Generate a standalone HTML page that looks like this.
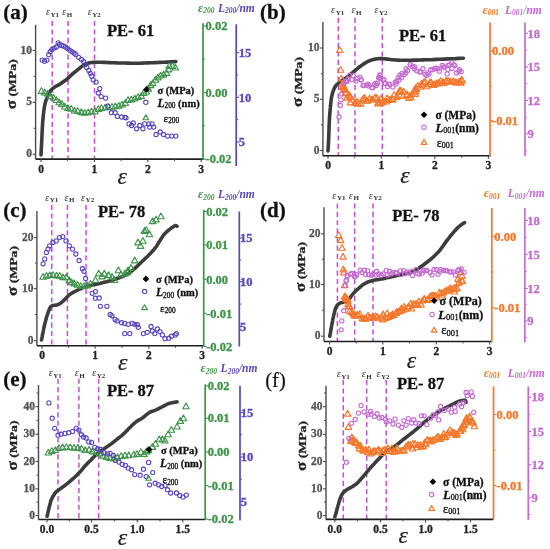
<!DOCTYPE html>
<html><head><meta charset="utf-8"><style>
html,body{margin:0;padding:0;background:#fff;}
svg{display:block;font-family:"Liberation Serif",serif;will-change:transform;filter:blur(0.4px);}
</style></head><body>
<svg width="550" height="549" viewBox="0 0 550 549">
<rect width="550" height="549" fill="#fff"/>
<text x="3.2" y="18.8" font-size="21" fill="#111" stroke="#111" stroke-width="0.3" font-weight="bold" font-style="normal" text-anchor="start" >(a)</text>
<text x="45.9" y="15.2" font-size="10" fill="#333" stroke="#333" stroke-width="0" font-weight="normal" font-style="italic" text-anchor="start" >&#949;</text>
<text x="50.5" y="17.0" font-size="7.0" fill="#333" stroke="#333" stroke-width="0" font-weight="bold" font-style="normal" text-anchor="start" >Y1</text>
<text x="62.2" y="15.2" font-size="10" fill="#333" stroke="#333" stroke-width="0" font-weight="normal" font-style="italic" text-anchor="start" >&#949;</text>
<text x="66.8" y="17.0" font-size="7.0" fill="#333" stroke="#333" stroke-width="0" font-weight="bold" font-style="normal" text-anchor="start" >H</text>
<text x="87.7" y="15.2" font-size="10" fill="#333" stroke="#333" stroke-width="0" font-weight="normal" font-style="italic" text-anchor="start" >&#949;</text>
<text x="92.3" y="17.0" font-size="7.0" fill="#333" stroke="#333" stroke-width="0" font-weight="bold" font-style="normal" text-anchor="start" >Y2</text>
<line x1="52.2" y1="21.0" x2="52.2" y2="158.5" stroke="#c64cd4" stroke-width="1.5" stroke-dasharray="5.1,3.3"/>
<line x1="68.0" y1="21.0" x2="68.0" y2="158.5" stroke="#c64cd4" stroke-width="1.5" stroke-dasharray="5.1,3.3"/>
<line x1="94.5" y1="21.0" x2="94.5" y2="158.5" stroke="#c64cd4" stroke-width="1.5" stroke-dasharray="5.1,3.3"/>
<text transform="translate(15.8,84.2) rotate(-90) scale(1.22,1)" font-size="11.2" font-weight="bold" fill="#222" stroke="#222" stroke-width="0.3" text-anchor="middle"><tspan font-weight="bold" font-size="14">&#963;</tspan> (MPa)</text>
<line x1="35.6" y1="24.8" x2="35.6" y2="159.1" stroke="#4a4a4a" stroke-width="1.4"/>
<line x1="32.6" y1="154.3" x2="35.6" y2="154.3" stroke="#4a4a4a" stroke-width="1.1"/>
<text x="32.1" y="157.3" font-size="11.5" fill="#555555" stroke="#555555" stroke-width="0.3" font-weight="bold" font-style="normal" text-anchor="end" >0</text>
<line x1="32.6" y1="102.4" x2="35.6" y2="102.4" stroke="#4a4a4a" stroke-width="1.1"/>
<text x="32.1" y="105.4" font-size="11.5" fill="#555555" stroke="#555555" stroke-width="0.3" font-weight="bold" font-style="normal" text-anchor="end" >5</text>
<line x1="32.6" y1="50.5" x2="35.6" y2="50.5" stroke="#4a4a4a" stroke-width="1.1"/>
<text x="32.1" y="53.5" font-size="11.5" fill="#555555" stroke="#555555" stroke-width="0.3" font-weight="bold" font-style="normal" text-anchor="end" >10</text>
<line x1="33.6" y1="128.3" x2="35.6" y2="128.3" stroke="#4a4a4a" stroke-width="1.0"/>
<line x1="33.6" y1="76.4" x2="35.6" y2="76.4" stroke="#4a4a4a" stroke-width="1.0"/>
<line x1="35.6" y1="159.1" x2="203.5" y2="159.1" stroke="#1e1e1e" stroke-width="1.6"/>
<line x1="41.0" y1="159.1" x2="41.0" y2="162.1" stroke="#4a4a4a" stroke-width="1.1"/>
<text x="41.0" y="172.6" font-size="11.5" fill="#222222" stroke="#222222" stroke-width="0.3" font-weight="bold" font-style="normal" text-anchor="middle" >0</text>
<line x1="94.4" y1="159.1" x2="94.4" y2="162.1" stroke="#4a4a4a" stroke-width="1.1"/>
<text x="94.4" y="172.6" font-size="11.5" fill="#222222" stroke="#222222" stroke-width="0.3" font-weight="bold" font-style="normal" text-anchor="middle" >1</text>
<line x1="147.8" y1="159.1" x2="147.8" y2="162.1" stroke="#4a4a4a" stroke-width="1.1"/>
<text x="147.8" y="172.6" font-size="11.5" fill="#222222" stroke="#222222" stroke-width="0.3" font-weight="bold" font-style="normal" text-anchor="middle" >2</text>
<line x1="201.2" y1="159.1" x2="201.2" y2="162.1" stroke="#4a4a4a" stroke-width="1.1"/>
<text x="201.2" y="172.6" font-size="11.5" fill="#222222" stroke="#222222" stroke-width="0.3" font-weight="bold" font-style="normal" text-anchor="middle" >3</text>
<line x1="67.7" y1="159.1" x2="67.7" y2="161.1" stroke="#4a4a4a" stroke-width="1.0"/>
<line x1="121.1" y1="159.1" x2="121.1" y2="161.1" stroke="#4a4a4a" stroke-width="1.0"/>
<line x1="174.5" y1="159.1" x2="174.5" y2="161.1" stroke="#4a4a4a" stroke-width="1.0"/>
<line x1="203.0" y1="23.2" x2="203.0" y2="159.5" stroke="#3f934a" stroke-width="1.7"/>
<line x1="203.0" y1="26.0" x2="206.0" y2="26.0" stroke="#3f934a" stroke-width="1.1"/>
<text x="205.5" y="30.2" font-size="12.5" fill="#3f934a" stroke="#3f934a" stroke-width="0.3" font-weight="bold" font-style="normal" text-anchor="start" >0.02</text>
<line x1="203.0" y1="92.5" x2="206.0" y2="92.5" stroke="#3f934a" stroke-width="1.1"/>
<text x="205.5" y="96.7" font-size="12.5" fill="#3f934a" stroke="#3f934a" stroke-width="0.3" font-weight="bold" font-style="normal" text-anchor="start" >0.00</text>
<line x1="203.0" y1="159.0" x2="206.0" y2="159.0" stroke="#3f934a" stroke-width="1.1"/>
<text x="205.5" y="163.2" font-size="12.5" fill="#3f934a" stroke="#3f934a" stroke-width="0.3" font-weight="bold" font-style="normal" text-anchor="start" >-0.02</text>
<line x1="203.0" y1="59.2" x2="205.0" y2="59.2" stroke="#3f934a" stroke-width="1.0"/>
<line x1="203.0" y1="125.8" x2="205.0" y2="125.8" stroke="#3f934a" stroke-width="1.0"/>
<line x1="236.2" y1="24.4" x2="236.2" y2="166.0" stroke="#5a47bc" stroke-width="1.7"/>
<line x1="236.2" y1="52.6" x2="239.2" y2="52.6" stroke="#5a47bc" stroke-width="1.1"/>
<text x="238.7" y="56.8" font-size="12.5" fill="#5a47bc" stroke="#5a47bc" stroke-width="0.3" font-weight="bold" font-style="normal" text-anchor="start" >15</text>
<line x1="236.2" y1="97.3" x2="239.2" y2="97.3" stroke="#5a47bc" stroke-width="1.1"/>
<text x="238.7" y="101.5" font-size="12.5" fill="#5a47bc" stroke="#5a47bc" stroke-width="0.3" font-weight="bold" font-style="normal" text-anchor="start" >10</text>
<line x1="236.2" y1="142.0" x2="239.2" y2="142.0" stroke="#5a47bc" stroke-width="1.1"/>
<text x="238.7" y="146.2" font-size="12.5" fill="#5a47bc" stroke="#5a47bc" stroke-width="0.3" font-weight="bold" font-style="normal" text-anchor="start" >5</text>
<line x1="236.2" y1="75.0" x2="238.2" y2="75.0" stroke="#5a47bc" stroke-width="1.0"/>
<line x1="236.2" y1="119.6" x2="238.2" y2="119.6" stroke="#5a47bc" stroke-width="1.0"/>
<text x="198.0" y="11.8" font-size="12.5" font-weight="bold" font-style="italic" fill="#3f934a">&#949;<tspan font-size="7.5" dy="1.4">200</tspan></text>
<text x="218.0" y="11.8" font-size="11.5" font-weight="bold" font-style="italic" fill="#5a47bc">L<tspan font-size="7.5" dy="1.4">200</tspan><tspan dy="-1.4">/nm</tspan></text>
<text x="107.0" y="35.8" font-size="16.5" fill="#111" stroke="#111" stroke-width="0.3" font-weight="bold" font-style="normal" text-anchor="start" >PE- 61</text>
<text x="117.5" y="183.5" font-size="24" fill="#222" stroke="#222" stroke-width="0.18" font-weight="normal" font-style="italic" text-anchor="start" >&#949;</text>
<polyline points="41.0,155.0 41.0,154.4 41.1,153.8 41.1,153.1 41.1,152.2 41.2,151.2 41.2,150.2 41.3,149.1 41.4,147.8 41.4,146.4 41.5,145.0 41.6,143.4 41.7,141.5 41.8,139.5 41.9,137.4 42.0,135.2 42.1,133.0 42.2,130.8 42.3,128.7 42.4,126.8 42.5,125.0 42.6,123.4 42.7,121.9 42.8,120.5 43.0,119.1 43.1,117.8 43.2,116.6 43.3,115.4 43.4,114.2 43.6,113.1 43.7,112.0 43.8,110.9 44.0,109.9 44.1,108.9 44.3,107.9 44.4,107.0 44.5,106.2 44.7,105.3 44.9,104.5 45.0,103.7 45.2,103.0 45.4,102.3 45.6,101.7 45.7,101.1 45.9,100.6 46.1,100.1 46.3,99.6 46.5,99.1 46.7,98.6 47.0,98.1 47.2,97.5 47.4,96.9 47.7,96.3 47.9,95.7 48.2,95.0 48.5,94.4 48.8,93.8 49.0,93.2 49.4,92.6 49.7,92.0 50.0,91.5 50.3,91.0 50.7,90.5 51.1,90.1 51.5,89.7 51.9,89.3 52.3,88.9 52.7,88.5 53.1,88.2 53.6,87.8 54.0,87.5 54.4,87.2 54.9,86.9 55.3,86.6 55.8,86.4 56.2,86.2 56.7,85.9 57.2,85.7 57.6,85.5 58.1,85.3 58.5,85.0 58.9,84.7 59.4,84.5 59.8,84.2 60.2,83.9 60.6,83.6 61.1,83.3 61.5,83.0 61.9,82.8 62.3,82.5 62.7,82.2 63.1,81.9 63.5,81.7 63.8,81.5 64.1,81.2 64.5,81.0 64.8,80.8 65.2,80.5 65.6,80.2 66.0,79.9 66.5,79.5 67.0,79.1 67.6,78.6 68.2,78.0 68.8,77.5 69.4,76.9 70.0,76.3 70.7,75.7 71.3,75.1 71.9,74.5 72.5,74.0 73.1,73.5 73.6,73.0 74.2,72.5 74.8,72.1 75.4,71.6 75.9,71.2 76.4,70.7 77.0,70.3 77.5,69.9 78.0,69.5 78.5,69.1 78.9,68.7 79.4,68.3 79.8,68.0 80.3,67.6 80.7,67.3 81.1,66.9 81.5,66.6 82.0,66.3 82.4,66.0 82.9,65.7 83.3,65.4 83.8,65.2 84.3,64.9 84.7,64.6 85.2,64.4 85.7,64.2 86.1,64.0 86.6,63.8 87.0,63.6 87.4,63.4 87.8,63.3 88.2,63.2 88.6,63.1 89.0,63.0 89.4,62.9 89.7,62.8 90.1,62.7 90.6,62.7 91.0,62.6 91.4,62.5 91.9,62.5 92.3,62.4 92.8,62.4 93.2,62.4 93.7,62.4 94.2,62.3 94.8,62.3 95.4,62.3 96.0,62.3 96.6,62.3 97.3,62.3 98.0,62.3 98.7,62.3 99.4,62.3 100.2,62.3 101.0,62.3 101.9,62.3 102.9,62.4 104.0,62.4 105.2,62.4 106.6,62.5 108.2,62.6 109.8,62.6 111.5,62.7 113.1,62.8 114.7,62.8 116.2,62.9 117.5,63.0 118.7,63.0 119.7,63.0 120.4,63.0 121.1,63.0 121.6,63.0 122.1,63.0 122.6,63.0 123.1,63.0 123.6,63.0 124.3,63.0 125.0,63.0 125.8,63.0 126.7,63.1 127.6,63.1 128.5,63.1 129.5,63.2 130.5,63.2 131.5,63.3 132.6,63.3 133.8,63.3 135.0,63.3 136.3,63.3 137.7,63.3 139.1,63.2 140.6,63.2 142.2,63.1 143.8,63.0 145.3,63.0 146.9,62.9 148.5,62.9 150.0,62.8 151.5,62.7 153.1,62.7 154.6,62.6 156.2,62.6 157.8,62.5 159.3,62.4 160.8,62.4 162.3,62.3 163.7,62.3 165.0,62.2 166.3,62.1 167.6,62.1 168.9,62.0 170.1,61.9 171.3,61.9 172.5,61.8 173.5,61.7 174.4,61.7 175.2,61.6 175.8,61.6" fill="none" stroke="#3c3c3c" stroke-width="3.6" stroke-linejoin="round" stroke-linecap="round"/>
<polygon points="41.4,87.7 38.2,93.3 44.7,93.3" fill="none" stroke="#3f934a" stroke-width="1.15" stroke-linejoin="round"/>
<polygon points="44.6,89.3 41.3,95.0 47.8,95.0" fill="none" stroke="#3f934a" stroke-width="1.15" stroke-linejoin="round"/>
<polygon points="47.8,90.3 44.5,95.9 51.0,95.9" fill="none" stroke="#3f934a" stroke-width="1.15" stroke-linejoin="round"/>
<polygon points="50.5,93.1 47.3,98.7 53.8,98.7" fill="none" stroke="#3f934a" stroke-width="1.15" stroke-linejoin="round"/>
<polygon points="53.4,94.4 50.2,100.0 56.7,100.0" fill="none" stroke="#3f934a" stroke-width="1.15" stroke-linejoin="round"/>
<polygon points="56.5,96.8 53.2,102.5 59.7,102.5" fill="none" stroke="#3f934a" stroke-width="1.15" stroke-linejoin="round"/>
<polygon points="59.1,99.0 55.9,104.7 62.4,104.7" fill="none" stroke="#3f934a" stroke-width="1.15" stroke-linejoin="round"/>
<polygon points="61.9,100.7 58.6,106.4 65.1,106.4" fill="none" stroke="#3f934a" stroke-width="1.15" stroke-linejoin="round"/>
<polygon points="64.9,103.4 61.6,109.0 68.1,109.0" fill="none" stroke="#3f934a" stroke-width="1.15" stroke-linejoin="round"/>
<polygon points="67.9,104.9 64.7,110.5 71.2,110.5" fill="none" stroke="#3f934a" stroke-width="1.15" stroke-linejoin="round"/>
<polygon points="71.2,105.5 67.9,111.2 74.4,111.2" fill="none" stroke="#3f934a" stroke-width="1.15" stroke-linejoin="round"/>
<polygon points="74.5,107.4 71.2,113.0 77.7,113.0" fill="none" stroke="#3f934a" stroke-width="1.15" stroke-linejoin="round"/>
<polygon points="77.7,107.7 74.4,113.3 80.9,113.3" fill="none" stroke="#3f934a" stroke-width="1.15" stroke-linejoin="round"/>
<polygon points="81.3,108.9 78.0,114.6 84.5,114.6" fill="none" stroke="#3f934a" stroke-width="1.15" stroke-linejoin="round"/>
<polygon points="84.7,109.6 81.5,115.2 88.0,115.2" fill="none" stroke="#3f934a" stroke-width="1.15" stroke-linejoin="round"/>
<polygon points="88.2,109.0 84.9,114.6 91.4,114.6" fill="none" stroke="#3f934a" stroke-width="1.15" stroke-linejoin="round"/>
<polygon points="91.5,108.4 88.3,114.0 94.8,114.0" fill="none" stroke="#3f934a" stroke-width="1.15" stroke-linejoin="round"/>
<polygon points="95.0,108.0 91.7,113.7 98.2,113.7" fill="none" stroke="#3f934a" stroke-width="1.15" stroke-linejoin="round"/>
<polygon points="98.4,105.8 95.2,111.4 101.7,111.4" fill="none" stroke="#3f934a" stroke-width="1.15" stroke-linejoin="round"/>
<polygon points="101.4,104.7 98.2,110.3 104.7,110.3" fill="none" stroke="#3f934a" stroke-width="1.15" stroke-linejoin="round"/>
<polygon points="105.2,104.4 101.9,110.0 108.4,110.0" fill="none" stroke="#3f934a" stroke-width="1.15" stroke-linejoin="round"/>
<polygon points="108.5,103.8 105.3,109.5 111.8,109.5" fill="none" stroke="#3f934a" stroke-width="1.15" stroke-linejoin="round"/>
<polygon points="112.0,103.5 108.7,109.2 115.2,109.2" fill="none" stroke="#3f934a" stroke-width="1.15" stroke-linejoin="round"/>
<polygon points="115.3,103.1 112.1,108.7 118.6,108.7" fill="none" stroke="#3f934a" stroke-width="1.15" stroke-linejoin="round"/>
<polygon points="118.8,102.5 115.5,108.1 122.0,108.1" fill="none" stroke="#3f934a" stroke-width="1.15" stroke-linejoin="round"/>
<polygon points="122.0,101.2 118.8,106.8 125.3,106.8" fill="none" stroke="#3f934a" stroke-width="1.15" stroke-linejoin="round"/>
<polygon points="125.2,99.7 122.0,105.3 128.5,105.3" fill="none" stroke="#3f934a" stroke-width="1.15" stroke-linejoin="round"/>
<polygon points="128.1,96.8 124.8,102.4 131.3,102.4" fill="none" stroke="#3f934a" stroke-width="1.15" stroke-linejoin="round"/>
<polygon points="131.3,96.3 128.1,101.9 134.6,101.9" fill="none" stroke="#3f934a" stroke-width="1.15" stroke-linejoin="round"/>
<polygon points="134.8,95.2 131.5,100.8 138.0,100.8" fill="none" stroke="#3f934a" stroke-width="1.15" stroke-linejoin="round"/>
<polygon points="138.1,93.8 134.8,99.4 141.3,99.4" fill="none" stroke="#3f934a" stroke-width="1.15" stroke-linejoin="round"/>
<polygon points="141.2,92.7 138.0,98.3 144.5,98.3" fill="none" stroke="#3f934a" stroke-width="1.15" stroke-linejoin="round"/>
<polygon points="143.7,89.7 140.4,95.4 146.9,95.4" fill="none" stroke="#3f934a" stroke-width="1.15" stroke-linejoin="round"/>
<polygon points="146.3,88.4 143.1,94.0 149.6,94.0" fill="none" stroke="#3f934a" stroke-width="1.15" stroke-linejoin="round"/>
<polygon points="148.3,85.5 145.0,91.1 151.5,91.1" fill="none" stroke="#3f934a" stroke-width="1.15" stroke-linejoin="round"/>
<polygon points="150.6,81.9 147.3,87.6 153.8,87.6" fill="none" stroke="#3f934a" stroke-width="1.15" stroke-linejoin="round"/>
<polygon points="152.7,80.0 149.5,85.6 156.0,85.6" fill="none" stroke="#3f934a" stroke-width="1.15" stroke-linejoin="round"/>
<polygon points="155.4,76.6 152.1,82.2 158.6,82.2" fill="none" stroke="#3f934a" stroke-width="1.15" stroke-linejoin="round"/>
<polygon points="157.8,74.2 154.6,79.8 161.1,79.8" fill="none" stroke="#3f934a" stroke-width="1.15" stroke-linejoin="round"/>
<polygon points="160.6,72.3 157.3,78.0 163.8,78.0" fill="none" stroke="#3f934a" stroke-width="1.15" stroke-linejoin="round"/>
<polygon points="163.6,71.2 160.3,76.8 166.8,76.8" fill="none" stroke="#3f934a" stroke-width="1.15" stroke-linejoin="round"/>
<polygon points="166.6,69.7 163.3,75.3 169.8,75.3" fill="none" stroke="#3f934a" stroke-width="1.15" stroke-linejoin="round"/>
<polygon points="168.6,66.2 165.3,71.8 171.8,71.8" fill="none" stroke="#3f934a" stroke-width="1.15" stroke-linejoin="round"/>
<polygon points="169.2,62.8 166.0,68.4 172.5,68.4" fill="none" stroke="#3f934a" stroke-width="1.15" stroke-linejoin="round"/>
<polygon points="172.5,62.8 169.2,68.5 175.7,68.5" fill="none" stroke="#3f934a" stroke-width="1.15" stroke-linejoin="round"/>
<polygon points="175.3,64.3 172.1,70.0 178.6,70.0" fill="none" stroke="#3f934a" stroke-width="1.15" stroke-linejoin="round"/>
<circle cx="42.2" cy="60.1" r="2.1" fill="none" stroke="#5a47bc" stroke-width="1.1"/>
<circle cx="44.6" cy="61.2" r="2.1" fill="none" stroke="#5a47bc" stroke-width="1.1"/>
<circle cx="46.9" cy="60.1" r="2.1" fill="none" stroke="#5a47bc" stroke-width="1.1"/>
<circle cx="48.7" cy="54.6" r="2.1" fill="none" stroke="#5a47bc" stroke-width="1.1"/>
<circle cx="50.2" cy="51.7" r="2.1" fill="none" stroke="#5a47bc" stroke-width="1.1"/>
<circle cx="52.0" cy="49.5" r="2.1" fill="none" stroke="#5a47bc" stroke-width="1.1"/>
<circle cx="54.2" cy="48.1" r="2.1" fill="none" stroke="#5a47bc" stroke-width="1.1"/>
<circle cx="56.4" cy="47.0" r="2.1" fill="none" stroke="#5a47bc" stroke-width="1.1"/>
<circle cx="58.2" cy="42.8" r="2.1" fill="none" stroke="#5a47bc" stroke-width="1.1"/>
<circle cx="59.6" cy="44.5" r="2.1" fill="none" stroke="#5a47bc" stroke-width="1.1"/>
<circle cx="61.4" cy="45.5" r="2.1" fill="none" stroke="#5a47bc" stroke-width="1.1"/>
<circle cx="63.3" cy="45.9" r="2.1" fill="none" stroke="#5a47bc" stroke-width="1.1"/>
<circle cx="65.5" cy="47.0" r="2.1" fill="none" stroke="#5a47bc" stroke-width="1.1"/>
<circle cx="67.6" cy="48.5" r="2.1" fill="none" stroke="#5a47bc" stroke-width="1.1"/>
<circle cx="69.8" cy="50.3" r="2.1" fill="none" stroke="#5a47bc" stroke-width="1.1"/>
<circle cx="72.0" cy="51.7" r="2.1" fill="none" stroke="#5a47bc" stroke-width="1.1"/>
<circle cx="74.2" cy="53.2" r="2.1" fill="none" stroke="#5a47bc" stroke-width="1.1"/>
<circle cx="75.9" cy="54.6" r="2.1" fill="none" stroke="#5a47bc" stroke-width="1.1"/>
<circle cx="78.6" cy="57.3" r="2.1" fill="none" stroke="#5a47bc" stroke-width="1.1"/>
<circle cx="81.6" cy="59.5" r="2.1" fill="none" stroke="#5a47bc" stroke-width="1.1"/>
<circle cx="83.7" cy="61.7" r="2.1" fill="none" stroke="#5a47bc" stroke-width="1.1"/>
<circle cx="85.2" cy="64.6" r="2.1" fill="none" stroke="#5a47bc" stroke-width="1.1"/>
<circle cx="86.7" cy="67.5" r="2.1" fill="none" stroke="#5a47bc" stroke-width="1.1"/>
<circle cx="88.8" cy="70.4" r="2.1" fill="none" stroke="#5a47bc" stroke-width="1.1"/>
<circle cx="90.3" cy="73.3" r="2.1" fill="none" stroke="#5a47bc" stroke-width="1.1"/>
<circle cx="91.8" cy="76.2" r="2.1" fill="none" stroke="#5a47bc" stroke-width="1.1"/>
<circle cx="93.2" cy="79.9" r="2.1" fill="none" stroke="#5a47bc" stroke-width="1.1"/>
<circle cx="96.1" cy="82.1" r="2.1" fill="none" stroke="#5a47bc" stroke-width="1.1"/>
<circle cx="99.8" cy="88.6" r="2.1" fill="none" stroke="#5a47bc" stroke-width="1.1"/>
<circle cx="98.3" cy="93.0" r="2.1" fill="none" stroke="#5a47bc" stroke-width="1.1"/>
<circle cx="101.2" cy="96.6" r="2.1" fill="none" stroke="#5a47bc" stroke-width="1.1"/>
<circle cx="105.6" cy="98.1" r="2.1" fill="none" stroke="#5a47bc" stroke-width="1.1"/>
<circle cx="107.8" cy="106.1" r="2.1" fill="none" stroke="#5a47bc" stroke-width="1.1"/>
<circle cx="111.4" cy="112.7" r="2.1" fill="none" stroke="#5a47bc" stroke-width="1.1"/>
<circle cx="115.1" cy="112.7" r="2.1" fill="none" stroke="#5a47bc" stroke-width="1.1"/>
<circle cx="117.3" cy="116.3" r="2.1" fill="none" stroke="#5a47bc" stroke-width="1.1"/>
<circle cx="121.6" cy="117.0" r="2.1" fill="none" stroke="#5a47bc" stroke-width="1.1"/>
<circle cx="126.0" cy="117.8" r="2.1" fill="none" stroke="#5a47bc" stroke-width="1.1"/>
<circle cx="125.0" cy="117.3" r="2.1" fill="none" stroke="#5a47bc" stroke-width="1.1"/>
<circle cx="129.1" cy="123.9" r="2.1" fill="none" stroke="#5a47bc" stroke-width="1.1"/>
<circle cx="131.6" cy="125.5" r="2.1" fill="none" stroke="#5a47bc" stroke-width="1.1"/>
<circle cx="133.3" cy="122.9" r="2.1" fill="none" stroke="#5a47bc" stroke-width="1.1"/>
<circle cx="136.5" cy="128.8" r="2.1" fill="none" stroke="#5a47bc" stroke-width="1.1"/>
<circle cx="139.8" cy="125.5" r="2.1" fill="none" stroke="#5a47bc" stroke-width="1.1"/>
<circle cx="143.0" cy="128.8" r="2.1" fill="none" stroke="#5a47bc" stroke-width="1.1"/>
<circle cx="144.7" cy="123.9" r="2.1" fill="none" stroke="#5a47bc" stroke-width="1.1"/>
<circle cx="148.8" cy="123.9" r="2.1" fill="none" stroke="#5a47bc" stroke-width="1.1"/>
<circle cx="152.0" cy="123.9" r="2.1" fill="none" stroke="#5a47bc" stroke-width="1.1"/>
<circle cx="153.7" cy="127.1" r="2.1" fill="none" stroke="#5a47bc" stroke-width="1.1"/>
<circle cx="149.6" cy="127.1" r="2.1" fill="none" stroke="#5a47bc" stroke-width="1.1"/>
<circle cx="156.1" cy="134.5" r="2.1" fill="none" stroke="#5a47bc" stroke-width="1.1"/>
<circle cx="160.2" cy="132.0" r="2.1" fill="none" stroke="#5a47bc" stroke-width="1.1"/>
<circle cx="163.5" cy="134.5" r="2.1" fill="none" stroke="#5a47bc" stroke-width="1.1"/>
<circle cx="167.6" cy="136.1" r="2.1" fill="none" stroke="#5a47bc" stroke-width="1.1"/>
<circle cx="171.7" cy="136.1" r="2.1" fill="none" stroke="#5a47bc" stroke-width="1.1"/>
<circle cx="175.8" cy="136.1" r="2.1" fill="none" stroke="#5a47bc" stroke-width="1.1"/>
<polygon points="146.5,86.1 149.8,89.4 146.5,92.7 143.2,89.4" fill="#000"/>
<text x="157.4" y="93.8" font-size="10.5" font-weight="bold" fill="#111" stroke="#111" stroke-width="0.3">&#963; (MPa)</text>
<circle cx="145.8" cy="102.3" r="2.2" fill="none" stroke="#5a47bc" stroke-width="1.1"/>
<text x="157.4" y="106.6" font-size="10.5" font-weight="bold" fill="#111" stroke="#111" stroke-width="0.3"><tspan font-style="italic" font-size="11.6">L</tspan><tspan font-size="7.3" dy="1.6" font-weight="normal">200</tspan><tspan dy="-1.6"> (nm)</tspan></text>
<polygon points="145.8,114.9 143.0,119.7 148.6,119.7" fill="none" stroke="#3f934a" stroke-width="1.15" stroke-linejoin="round"/>
<text x="163.5" y="121.6" font-size="10.5" font-weight="bold" fill="#111" stroke="#111" stroke-width="0.3"><tspan font-weight="normal" font-size="11.0">&#949;</tspan><tspan font-size="7.3" dy="1.6" font-weight="normal">200</tspan></text>
<text x="260.0" y="19.0" font-size="21" fill="#111" stroke="#111" stroke-width="0.3" font-weight="bold" font-style="normal" text-anchor="start" >(b)</text>
<text x="331.1" y="13.2" font-size="10" fill="#333" stroke="#333" stroke-width="0" font-weight="normal" font-style="italic" text-anchor="start" >&#949;</text>
<text x="335.7" y="15.0" font-size="7.0" fill="#333" stroke="#333" stroke-width="0" font-weight="bold" font-style="normal" text-anchor="start" >Y1</text>
<text x="351.4" y="13.2" font-size="10" fill="#333" stroke="#333" stroke-width="0" font-weight="normal" font-style="italic" text-anchor="start" >&#949;</text>
<text x="356.0" y="15.0" font-size="7.0" fill="#333" stroke="#333" stroke-width="0" font-weight="bold" font-style="normal" text-anchor="start" >H</text>
<text x="374.4" y="13.2" font-size="10" fill="#333" stroke="#333" stroke-width="0" font-weight="normal" font-style="italic" text-anchor="start" >&#949;</text>
<text x="379.0" y="15.0" font-size="7.0" fill="#333" stroke="#333" stroke-width="0" font-weight="bold" font-style="normal" text-anchor="start" >Y2</text>
<line x1="338.3" y1="17.8" x2="338.3" y2="155.3" stroke="#c64cd4" stroke-width="1.5" stroke-dasharray="5.1,3.3"/>
<line x1="355.0" y1="17.8" x2="355.0" y2="155.3" stroke="#c64cd4" stroke-width="1.5" stroke-dasharray="5.1,3.3"/>
<line x1="382.3" y1="17.8" x2="382.3" y2="155.3" stroke="#c64cd4" stroke-width="1.5" stroke-dasharray="5.1,3.3"/>
<text transform="translate(302.3,82.0) rotate(-90) scale(1.22,1)" font-size="11.2" font-weight="bold" fill="#222" stroke="#222" stroke-width="0.3" text-anchor="middle"><tspan font-weight="bold" font-size="14">&#963;</tspan> (MPa)</text>
<line x1="322.9" y1="22.0" x2="322.9" y2="155.8" stroke="#4a4a4a" stroke-width="1.4"/>
<line x1="319.9" y1="150.5" x2="322.9" y2="150.5" stroke="#4a4a4a" stroke-width="1.1"/>
<text x="319.4" y="153.5" font-size="11.5" fill="#555555" stroke="#555555" stroke-width="0.3" font-weight="bold" font-style="normal" text-anchor="end" >0</text>
<line x1="319.9" y1="99.3" x2="322.9" y2="99.3" stroke="#4a4a4a" stroke-width="1.1"/>
<text x="319.4" y="102.3" font-size="11.5" fill="#555555" stroke="#555555" stroke-width="0.3" font-weight="bold" font-style="normal" text-anchor="end" >5</text>
<line x1="319.9" y1="48.0" x2="322.9" y2="48.0" stroke="#4a4a4a" stroke-width="1.1"/>
<text x="319.4" y="51.0" font-size="11.5" fill="#555555" stroke="#555555" stroke-width="0.3" font-weight="bold" font-style="normal" text-anchor="end" >10</text>
<line x1="320.9" y1="124.9" x2="322.9" y2="124.9" stroke="#4a4a4a" stroke-width="1.0"/>
<line x1="320.9" y1="73.7" x2="322.9" y2="73.7" stroke="#4a4a4a" stroke-width="1.0"/>
<line x1="322.9" y1="155.8" x2="490.5" y2="155.8" stroke="#1e1e1e" stroke-width="1.6"/>
<line x1="328.0" y1="155.8" x2="328.0" y2="158.8" stroke="#4a4a4a" stroke-width="1.1"/>
<text x="328.0" y="169.3" font-size="11.5" fill="#222222" stroke="#222222" stroke-width="0.3" font-weight="bold" font-style="normal" text-anchor="middle" >0</text>
<line x1="381.3" y1="155.8" x2="381.3" y2="158.8" stroke="#4a4a4a" stroke-width="1.1"/>
<text x="381.3" y="169.3" font-size="11.5" fill="#222222" stroke="#222222" stroke-width="0.3" font-weight="bold" font-style="normal" text-anchor="middle" >1</text>
<line x1="434.8" y1="155.8" x2="434.8" y2="158.8" stroke="#4a4a4a" stroke-width="1.1"/>
<text x="434.8" y="169.3" font-size="11.5" fill="#222222" stroke="#222222" stroke-width="0.3" font-weight="bold" font-style="normal" text-anchor="middle" >2</text>
<line x1="488.4" y1="155.8" x2="488.4" y2="158.8" stroke="#4a4a4a" stroke-width="1.1"/>
<text x="488.4" y="169.3" font-size="11.5" fill="#222222" stroke="#222222" stroke-width="0.3" font-weight="bold" font-style="normal" text-anchor="middle" >3</text>
<line x1="354.6" y1="155.8" x2="354.6" y2="157.8" stroke="#4a4a4a" stroke-width="1.0"/>
<line x1="408.0" y1="155.8" x2="408.0" y2="157.8" stroke="#4a4a4a" stroke-width="1.0"/>
<line x1="461.6" y1="155.8" x2="461.6" y2="157.8" stroke="#4a4a4a" stroke-width="1.0"/>
<line x1="490.0" y1="22.4" x2="490.0" y2="156.0" stroke="#f3782c" stroke-width="1.7"/>
<line x1="490.0" y1="50.9" x2="493.0" y2="50.9" stroke="#f3782c" stroke-width="1.1"/>
<text x="492.0" y="55.1" font-size="12.5" fill="#f3782c" stroke="#f3782c" stroke-width="0.3" font-weight="bold" font-style="normal" text-anchor="start" >0.00</text>
<line x1="490.0" y1="120.7" x2="493.0" y2="120.7" stroke="#f3782c" stroke-width="1.1"/>
<text x="492.0" y="124.9" font-size="12.5" fill="#f3782c" stroke="#f3782c" stroke-width="0.3" font-weight="bold" font-style="normal" text-anchor="start" >-0.01</text>
<line x1="490.0" y1="85.8" x2="492.0" y2="85.8" stroke="#f3782c" stroke-width="1.0"/>
<line x1="525.0" y1="22.4" x2="525.0" y2="156.3" stroke="#c46ad2" stroke-width="1.7"/>
<line x1="525.0" y1="33.3" x2="528.0" y2="33.3" stroke="#c46ad2" stroke-width="1.1"/>
<text x="527.5" y="37.5" font-size="12.5" fill="#c46ad2" stroke="#c46ad2" stroke-width="0.3" font-weight="bold" font-style="normal" text-anchor="start" >18</text>
<line x1="525.0" y1="66.8" x2="528.0" y2="66.8" stroke="#c46ad2" stroke-width="1.1"/>
<text x="527.5" y="71.0" font-size="12.5" fill="#c46ad2" stroke="#c46ad2" stroke-width="0.3" font-weight="bold" font-style="normal" text-anchor="start" >15</text>
<line x1="525.0" y1="100.5" x2="528.0" y2="100.5" stroke="#c46ad2" stroke-width="1.1"/>
<text x="527.5" y="104.7" font-size="12.5" fill="#c46ad2" stroke="#c46ad2" stroke-width="0.3" font-weight="bold" font-style="normal" text-anchor="start" >12</text>
<line x1="525.0" y1="134.0" x2="528.0" y2="134.0" stroke="#c46ad2" stroke-width="1.1"/>
<text x="527.5" y="138.2" font-size="12.5" fill="#c46ad2" stroke="#c46ad2" stroke-width="0.3" font-weight="bold" font-style="normal" text-anchor="start" >9</text>
<line x1="525.0" y1="50.0" x2="527.0" y2="50.0" stroke="#c46ad2" stroke-width="1.0"/>
<line x1="525.0" y1="83.6" x2="527.0" y2="83.6" stroke="#c46ad2" stroke-width="1.0"/>
<line x1="525.0" y1="117.2" x2="527.0" y2="117.2" stroke="#c46ad2" stroke-width="1.0"/>
<line x1="525.0" y1="150.8" x2="527.0" y2="150.8" stroke="#c46ad2" stroke-width="1.0"/>
<text x="482.5" y="14.0" font-size="12.5" font-weight="bold" font-style="italic" fill="#f3782c">&#949;<tspan font-size="7.5" dy="1.4">001</tspan></text>
<text x="505.0" y="14.0" font-size="11.5" font-weight="bold" font-style="italic" fill="#c46ad2">L<tspan font-size="7.5" dy="1.4">001</tspan><tspan dy="-1.4">/nm</tspan></text>
<text x="399.0" y="40.5" font-size="16.5" fill="#111" stroke="#111" stroke-width="0.3" font-weight="bold" font-style="normal" text-anchor="start" >PE- 61</text>
<text x="400.2" y="182.5" font-size="24" fill="#222" stroke="#222" stroke-width="0.18" font-weight="normal" font-style="italic" text-anchor="start" >&#949;</text>
<polyline points="328.0,151.0 328.0,150.4 328.1,149.6 328.1,148.8 328.2,147.8 328.2,146.8 328.3,145.6 328.4,144.3 328.5,143.0 328.5,141.5 328.6,140.0 328.7,138.4 328.7,136.5 328.8,134.6 328.9,132.5 329.0,130.4 329.0,128.2 329.1,126.1 329.2,124.0 329.3,121.9 329.4,120.0 329.5,118.1 329.6,116.2 329.8,114.3 329.9,112.5 330.1,110.6 330.2,108.9 330.4,107.2 330.5,105.6 330.7,104.1 330.8,102.7 330.9,101.5 331.1,100.4 331.2,99.4 331.3,98.5 331.5,97.7 331.6,96.9 331.7,96.2 331.9,95.4 332.1,94.7 332.3,93.9 332.5,93.1 332.8,92.3 333.0,91.5 333.3,90.7 333.6,90.0 333.9,89.2 334.2,88.5 334.5,87.8 334.8,87.2 335.2,86.6 335.6,86.1 335.9,85.6 336.3,85.1 336.7,84.7 337.1,84.3 337.6,83.9 338.0,83.6 338.5,83.2 339.0,82.7 339.6,82.3 340.2,81.8 340.9,81.3 341.6,80.9 342.3,80.4 343.1,79.9 343.8,79.3 344.6,78.8 345.4,78.3 346.2,77.7 346.9,77.2 347.6,76.6 348.4,76.1 349.1,75.5 349.8,74.9 350.6,74.3 351.3,73.7 352.0,73.1 352.7,72.5 353.5,71.9 354.2,71.3 354.9,70.7 355.6,70.1 356.4,69.5 357.1,68.9 357.8,68.3 358.5,67.7 359.2,67.1 360.0,66.6 360.7,66.0 361.4,65.5 362.1,65.0 362.9,64.5 363.6,64.0 364.3,63.5 365.0,63.1 365.8,62.6 366.5,62.2 367.2,61.8 368.0,61.4 368.7,61.1 369.4,60.8 370.2,60.5 370.9,60.2 371.6,60.0 372.4,59.8 373.1,59.6 373.8,59.4 374.5,59.3 375.3,59.1 376.0,59.0 376.7,58.9 377.3,58.8 377.9,58.7 378.5,58.7 379.1,58.6 379.7,58.6 380.4,58.6 381.2,58.6 382.2,58.6 383.3,58.7 384.5,58.8 385.8,58.9 387.2,59.1 388.7,59.3 390.3,59.5 392.0,59.7 393.8,59.8 395.7,60.0 397.8,60.1 400.0,60.2 402.4,60.2 405.0,60.2 407.7,60.2 410.5,60.2 413.5,60.1 416.6,60.1 419.7,60.0 422.8,59.9 426.0,59.8 429.2,59.7 432.6,59.6 436.3,59.4 440.2,59.3 444.2,59.1 448.1,58.9 451.9,58.7 455.5,58.6 458.7,58.4 461.3,58.3 463.4,58.2" fill="none" stroke="#3c3c3c" stroke-width="3.6" stroke-linejoin="round" stroke-linecap="round"/>
<polygon points="339.6,46.8 336.4,52.5 342.9,52.5" fill="none" stroke="#f3782c" stroke-width="1.15" stroke-linejoin="round"/>
<polygon points="340.7,66.5 337.4,72.2 343.9,72.2" fill="none" stroke="#f3782c" stroke-width="1.15" stroke-linejoin="round"/>
<polygon points="341.3,75.2 338.1,80.9 344.6,80.9" fill="none" stroke="#f3782c" stroke-width="1.15" stroke-linejoin="round"/>
<polygon points="342.4,80.3 339.2,85.9 345.7,85.9" fill="none" stroke="#f3782c" stroke-width="1.15" stroke-linejoin="round"/>
<polygon points="343.1,83.0 339.8,88.6 346.3,88.6" fill="none" stroke="#f3782c" stroke-width="1.15" stroke-linejoin="round"/>
<polygon points="343.3,84.4 340.1,90.0 346.6,90.0" fill="none" stroke="#f3782c" stroke-width="1.15" stroke-linejoin="round"/>
<polygon points="342.5,83.4 339.2,89.0 345.7,89.0" fill="none" stroke="#f3782c" stroke-width="1.15" stroke-linejoin="round"/>
<polygon points="344.3,86.0 341.0,91.6 347.5,91.6" fill="none" stroke="#f3782c" stroke-width="1.15" stroke-linejoin="round"/>
<polygon points="344.6,84.6 341.4,90.2 347.9,90.2" fill="none" stroke="#f3782c" stroke-width="1.15" stroke-linejoin="round"/>
<polygon points="344.6,86.8 341.3,92.4 347.8,92.4" fill="none" stroke="#f3782c" stroke-width="1.15" stroke-linejoin="round"/>
<polygon points="345.5,90.0 342.3,95.6 348.8,95.6" fill="none" stroke="#f3782c" stroke-width="1.15" stroke-linejoin="round"/>
<polygon points="345.5,89.3 342.3,94.9 348.8,94.9" fill="none" stroke="#f3782c" stroke-width="1.15" stroke-linejoin="round"/>
<polygon points="346.9,94.5 343.7,100.1 350.2,100.1" fill="none" stroke="#f3782c" stroke-width="1.15" stroke-linejoin="round"/>
<polygon points="348.8,91.5 345.5,97.1 352.0,97.1" fill="none" stroke="#f3782c" stroke-width="1.15" stroke-linejoin="round"/>
<polygon points="349.8,92.6 346.6,98.2 353.1,98.2" fill="none" stroke="#f3782c" stroke-width="1.15" stroke-linejoin="round"/>
<polygon points="350.4,93.9 347.2,99.5 353.7,99.5" fill="none" stroke="#f3782c" stroke-width="1.15" stroke-linejoin="round"/>
<polygon points="350.4,99.3 347.1,104.9 353.6,104.9" fill="none" stroke="#f3782c" stroke-width="1.15" stroke-linejoin="round"/>
<polygon points="352.1,96.3 348.8,102.0 355.3,102.0" fill="none" stroke="#f3782c" stroke-width="1.15" stroke-linejoin="round"/>
<polygon points="354.9,99.6 351.7,105.2 358.2,105.2" fill="none" stroke="#f3782c" stroke-width="1.15" stroke-linejoin="round"/>
<polygon points="355.3,99.7 352.0,105.3 358.5,105.3" fill="none" stroke="#f3782c" stroke-width="1.15" stroke-linejoin="round"/>
<polygon points="357.3,98.3 354.0,104.0 360.5,104.0" fill="none" stroke="#f3782c" stroke-width="1.15" stroke-linejoin="round"/>
<polygon points="358.3,100.2 355.0,105.8 361.5,105.8" fill="none" stroke="#f3782c" stroke-width="1.15" stroke-linejoin="round"/>
<polygon points="360.7,100.4 357.4,106.1 363.9,106.1" fill="none" stroke="#f3782c" stroke-width="1.15" stroke-linejoin="round"/>
<polygon points="362.6,96.5 359.4,102.1 365.9,102.1" fill="none" stroke="#f3782c" stroke-width="1.15" stroke-linejoin="round"/>
<polygon points="363.3,95.4 360.0,101.0 366.5,101.0" fill="none" stroke="#f3782c" stroke-width="1.15" stroke-linejoin="round"/>
<polygon points="364.5,94.6 361.3,100.2 367.8,100.2" fill="none" stroke="#f3782c" stroke-width="1.15" stroke-linejoin="round"/>
<polygon points="366.3,97.3 363.1,102.9 369.6,102.9" fill="none" stroke="#f3782c" stroke-width="1.15" stroke-linejoin="round"/>
<polygon points="367.4,97.5 364.2,103.1 370.7,103.1" fill="none" stroke="#f3782c" stroke-width="1.15" stroke-linejoin="round"/>
<polygon points="369.6,95.3 366.3,100.9 372.8,100.9" fill="none" stroke="#f3782c" stroke-width="1.15" stroke-linejoin="round"/>
<polygon points="372.0,96.2 368.7,101.8 375.2,101.8" fill="none" stroke="#f3782c" stroke-width="1.15" stroke-linejoin="round"/>
<polygon points="372.7,96.3 369.5,101.9 376.0,101.9" fill="none" stroke="#f3782c" stroke-width="1.15" stroke-linejoin="round"/>
<polygon points="374.9,94.3 371.7,99.9 378.2,99.9" fill="none" stroke="#f3782c" stroke-width="1.15" stroke-linejoin="round"/>
<polygon points="376.9,94.6 373.7,100.3 380.2,100.3" fill="none" stroke="#f3782c" stroke-width="1.15" stroke-linejoin="round"/>
<polygon points="378.0,99.8 374.8,105.4 381.3,105.4" fill="none" stroke="#f3782c" stroke-width="1.15" stroke-linejoin="round"/>
<polygon points="378.1,100.4 374.9,106.0 381.4,106.0" fill="none" stroke="#f3782c" stroke-width="1.15" stroke-linejoin="round"/>
<polygon points="380.2,99.4 376.9,105.1 383.4,105.1" fill="none" stroke="#f3782c" stroke-width="1.15" stroke-linejoin="round"/>
<polygon points="380.8,95.4 377.5,101.0 384.0,101.0" fill="none" stroke="#f3782c" stroke-width="1.15" stroke-linejoin="round"/>
<polygon points="382.2,99.3 378.9,105.0 385.4,105.0" fill="none" stroke="#f3782c" stroke-width="1.15" stroke-linejoin="round"/>
<polygon points="383.6,97.6 380.4,103.2 386.9,103.2" fill="none" stroke="#f3782c" stroke-width="1.15" stroke-linejoin="round"/>
<polygon points="386.5,98.4 383.2,104.0 389.7,104.0" fill="none" stroke="#f3782c" stroke-width="1.15" stroke-linejoin="round"/>
<polygon points="387.1,94.9 383.8,100.5 390.3,100.5" fill="none" stroke="#f3782c" stroke-width="1.15" stroke-linejoin="round"/>
<polygon points="388.9,96.9 385.7,102.5 392.2,102.5" fill="none" stroke="#f3782c" stroke-width="1.15" stroke-linejoin="round"/>
<polygon points="389.8,96.3 386.5,101.9 393.0,101.9" fill="none" stroke="#f3782c" stroke-width="1.15" stroke-linejoin="round"/>
<polygon points="392.4,96.3 389.2,102.0 395.7,102.0" fill="none" stroke="#f3782c" stroke-width="1.15" stroke-linejoin="round"/>
<polygon points="392.5,96.0 389.3,101.6 395.8,101.6" fill="none" stroke="#f3782c" stroke-width="1.15" stroke-linejoin="round"/>
<polygon points="393.9,91.7 390.7,97.3 397.2,97.3" fill="none" stroke="#f3782c" stroke-width="1.15" stroke-linejoin="round"/>
<polygon points="396.1,94.0 392.8,99.6 399.3,99.6" fill="none" stroke="#f3782c" stroke-width="1.15" stroke-linejoin="round"/>
<polygon points="397.0,93.2 393.7,98.8 400.2,98.8" fill="none" stroke="#f3782c" stroke-width="1.15" stroke-linejoin="round"/>
<polygon points="398.7,88.9 395.4,94.5 401.9,94.5" fill="none" stroke="#f3782c" stroke-width="1.15" stroke-linejoin="round"/>
<polygon points="399.7,87.4 396.5,93.1 403.0,93.1" fill="none" stroke="#f3782c" stroke-width="1.15" stroke-linejoin="round"/>
<polygon points="400.9,87.3 397.6,92.9 404.1,92.9" fill="none" stroke="#f3782c" stroke-width="1.15" stroke-linejoin="round"/>
<polygon points="403.3,92.8 400.1,98.4 406.6,98.4" fill="none" stroke="#f3782c" stroke-width="1.15" stroke-linejoin="round"/>
<polygon points="403.8,88.4 400.5,94.0 407.0,94.0" fill="none" stroke="#f3782c" stroke-width="1.15" stroke-linejoin="round"/>
<polygon points="406.5,91.9 403.3,97.5 409.8,97.5" fill="none" stroke="#f3782c" stroke-width="1.15" stroke-linejoin="round"/>
<polygon points="407.0,91.0 403.7,96.7 410.2,96.7" fill="none" stroke="#f3782c" stroke-width="1.15" stroke-linejoin="round"/>
<polygon points="408.8,94.7 405.6,100.3 412.1,100.3" fill="none" stroke="#f3782c" stroke-width="1.15" stroke-linejoin="round"/>
<polygon points="410.2,92.0 406.9,97.7 413.4,97.7" fill="none" stroke="#f3782c" stroke-width="1.15" stroke-linejoin="round"/>
<polygon points="410.9,94.1 407.7,99.7 414.2,99.7" fill="none" stroke="#f3782c" stroke-width="1.15" stroke-linejoin="round"/>
<polygon points="412.1,90.7 408.8,96.3 415.3,96.3" fill="none" stroke="#f3782c" stroke-width="1.15" stroke-linejoin="round"/>
<polygon points="414.4,87.4 411.2,93.0 417.7,93.0" fill="none" stroke="#f3782c" stroke-width="1.15" stroke-linejoin="round"/>
<polygon points="415.1,90.6 411.8,96.3 418.3,96.3" fill="none" stroke="#f3782c" stroke-width="1.15" stroke-linejoin="round"/>
<polygon points="415.6,88.3 412.4,93.9 418.9,93.9" fill="none" stroke="#f3782c" stroke-width="1.15" stroke-linejoin="round"/>
<polygon points="415.5,84.9 412.3,90.5 418.8,90.5" fill="none" stroke="#f3782c" stroke-width="1.15" stroke-linejoin="round"/>
<polygon points="416.4,85.8 413.1,91.5 419.6,91.5" fill="none" stroke="#f3782c" stroke-width="1.15" stroke-linejoin="round"/>
<polygon points="417.7,82.4 414.4,88.0 420.9,88.0" fill="none" stroke="#f3782c" stroke-width="1.15" stroke-linejoin="round"/>
<polygon points="420.0,83.6 416.8,89.2 423.3,89.2" fill="none" stroke="#f3782c" stroke-width="1.15" stroke-linejoin="round"/>
<polygon points="421.4,80.5 418.1,86.2 424.6,86.2" fill="none" stroke="#f3782c" stroke-width="1.15" stroke-linejoin="round"/>
<polygon points="422.1,81.6 418.8,87.2 425.3,87.2" fill="none" stroke="#f3782c" stroke-width="1.15" stroke-linejoin="round"/>
<polygon points="423.6,79.0 420.4,84.6 426.9,84.6" fill="none" stroke="#f3782c" stroke-width="1.15" stroke-linejoin="round"/>
<polygon points="425.1,78.3 421.9,83.9 428.4,83.9" fill="none" stroke="#f3782c" stroke-width="1.15" stroke-linejoin="round"/>
<polygon points="426.7,83.1 423.4,88.7 429.9,88.7" fill="none" stroke="#f3782c" stroke-width="1.15" stroke-linejoin="round"/>
<polygon points="429.2,81.0 426.0,86.6 432.5,86.6" fill="none" stroke="#f3782c" stroke-width="1.15" stroke-linejoin="round"/>
<polygon points="430.1,79.2 426.8,84.9 433.3,84.9" fill="none" stroke="#f3782c" stroke-width="1.15" stroke-linejoin="round"/>
<polygon points="431.0,78.7 427.7,84.3 434.2,84.3" fill="none" stroke="#f3782c" stroke-width="1.15" stroke-linejoin="round"/>
<polygon points="433.7,81.7 430.4,87.4 436.9,87.4" fill="none" stroke="#f3782c" stroke-width="1.15" stroke-linejoin="round"/>
<polygon points="434.6,80.9 431.3,86.6 437.8,86.6" fill="none" stroke="#f3782c" stroke-width="1.15" stroke-linejoin="round"/>
<polygon points="436.8,80.0 433.5,85.6 440.0,85.6" fill="none" stroke="#f3782c" stroke-width="1.15" stroke-linejoin="round"/>
<polygon points="438.1,79.9 434.9,85.6 441.4,85.6" fill="none" stroke="#f3782c" stroke-width="1.15" stroke-linejoin="round"/>
<polygon points="439.2,79.3 435.9,84.9 442.4,84.9" fill="none" stroke="#f3782c" stroke-width="1.15" stroke-linejoin="round"/>
<polygon points="440.6,77.8 437.4,83.4 443.9,83.4" fill="none" stroke="#f3782c" stroke-width="1.15" stroke-linejoin="round"/>
<polygon points="443.1,78.8 439.8,84.4 446.3,84.4" fill="none" stroke="#f3782c" stroke-width="1.15" stroke-linejoin="round"/>
<polygon points="443.8,80.0 440.6,85.7 447.1,85.7" fill="none" stroke="#f3782c" stroke-width="1.15" stroke-linejoin="round"/>
<polygon points="446.0,77.8 442.8,83.4 449.3,83.4" fill="none" stroke="#f3782c" stroke-width="1.15" stroke-linejoin="round"/>
<polygon points="446.5,77.4 443.3,83.0 449.8,83.0" fill="none" stroke="#f3782c" stroke-width="1.15" stroke-linejoin="round"/>
<polygon points="448.5,77.8 445.3,83.4 451.8,83.4" fill="none" stroke="#f3782c" stroke-width="1.15" stroke-linejoin="round"/>
<polygon points="450.5,78.5 447.2,84.1 453.7,84.1" fill="none" stroke="#f3782c" stroke-width="1.15" stroke-linejoin="round"/>
<polygon points="452.4,78.5 449.1,84.1 455.6,84.1" fill="none" stroke="#f3782c" stroke-width="1.15" stroke-linejoin="round"/>
<polygon points="453.5,77.8 450.2,83.4 456.7,83.4" fill="none" stroke="#f3782c" stroke-width="1.15" stroke-linejoin="round"/>
<polygon points="455.7,79.1 452.4,84.7 458.9,84.7" fill="none" stroke="#f3782c" stroke-width="1.15" stroke-linejoin="round"/>
<polygon points="456.6,79.4 453.4,85.0 459.9,85.0" fill="none" stroke="#f3782c" stroke-width="1.15" stroke-linejoin="round"/>
<polygon points="459.1,78.4 455.9,84.1 462.4,84.1" fill="none" stroke="#f3782c" stroke-width="1.15" stroke-linejoin="round"/>
<polygon points="460.8,79.5 457.6,85.1 464.1,85.1" fill="none" stroke="#f3782c" stroke-width="1.15" stroke-linejoin="round"/>
<polygon points="461.5,76.4 458.2,82.1 464.7,82.1" fill="none" stroke="#f3782c" stroke-width="1.15" stroke-linejoin="round"/>
<polygon points="462.3,77.4 459.1,83.0 465.6,83.0" fill="none" stroke="#f3782c" stroke-width="1.15" stroke-linejoin="round"/>
<circle cx="339.0" cy="117.0" r="2.1" fill="none" stroke="#c46ad2" stroke-width="1.1"/>
<circle cx="340.3" cy="105.5" r="2.1" fill="none" stroke="#c46ad2" stroke-width="1.1"/>
<circle cx="341.0" cy="99.8" r="2.1" fill="none" stroke="#c46ad2" stroke-width="1.1"/>
<circle cx="341.8" cy="93.9" r="2.1" fill="none" stroke="#c46ad2" stroke-width="1.1"/>
<circle cx="343.7" cy="82.9" r="2.1" fill="none" stroke="#c46ad2" stroke-width="1.1"/>
<circle cx="345.7" cy="81.1" r="2.1" fill="none" stroke="#c46ad2" stroke-width="1.1"/>
<circle cx="346.8" cy="81.6" r="2.1" fill="none" stroke="#c46ad2" stroke-width="1.1"/>
<circle cx="347.0" cy="81.1" r="2.1" fill="none" stroke="#c46ad2" stroke-width="1.1"/>
<circle cx="348.0" cy="79.0" r="2.1" fill="none" stroke="#c46ad2" stroke-width="1.1"/>
<circle cx="349.5" cy="75.5" r="2.1" fill="none" stroke="#c46ad2" stroke-width="1.1"/>
<circle cx="351.9" cy="79.6" r="2.1" fill="none" stroke="#c46ad2" stroke-width="1.1"/>
<circle cx="353.2" cy="75.4" r="2.1" fill="none" stroke="#c46ad2" stroke-width="1.1"/>
<circle cx="355.9" cy="81.1" r="2.1" fill="none" stroke="#c46ad2" stroke-width="1.1"/>
<circle cx="357.4" cy="78.4" r="2.1" fill="none" stroke="#c46ad2" stroke-width="1.1"/>
<circle cx="359.8" cy="77.1" r="2.1" fill="none" stroke="#c46ad2" stroke-width="1.1"/>
<circle cx="361.2" cy="79.8" r="2.1" fill="none" stroke="#c46ad2" stroke-width="1.1"/>
<circle cx="361.2" cy="79.8" r="2.1" fill="none" stroke="#c46ad2" stroke-width="1.1"/>
<circle cx="363.0" cy="85.6" r="2.1" fill="none" stroke="#c46ad2" stroke-width="1.1"/>
<circle cx="364.2" cy="85.3" r="2.1" fill="none" stroke="#c46ad2" stroke-width="1.1"/>
<circle cx="366.6" cy="85.1" r="2.1" fill="none" stroke="#c46ad2" stroke-width="1.1"/>
<circle cx="368.1" cy="84.1" r="2.1" fill="none" stroke="#c46ad2" stroke-width="1.1"/>
<circle cx="368.8" cy="85.9" r="2.1" fill="none" stroke="#c46ad2" stroke-width="1.1"/>
<circle cx="371.9" cy="87.6" r="2.1" fill="none" stroke="#c46ad2" stroke-width="1.1"/>
<circle cx="372.7" cy="87.7" r="2.1" fill="none" stroke="#c46ad2" stroke-width="1.1"/>
<circle cx="374.3" cy="84.4" r="2.1" fill="none" stroke="#c46ad2" stroke-width="1.1"/>
<circle cx="376.1" cy="85.5" r="2.1" fill="none" stroke="#c46ad2" stroke-width="1.1"/>
<circle cx="376.0" cy="83.1" r="2.1" fill="none" stroke="#c46ad2" stroke-width="1.1"/>
<circle cx="377.5" cy="83.4" r="2.1" fill="none" stroke="#c46ad2" stroke-width="1.1"/>
<circle cx="378.7" cy="77.8" r="2.1" fill="none" stroke="#c46ad2" stroke-width="1.1"/>
<circle cx="379.9" cy="74.9" r="2.1" fill="none" stroke="#c46ad2" stroke-width="1.1"/>
<circle cx="379.4" cy="77.3" r="2.1" fill="none" stroke="#c46ad2" stroke-width="1.1"/>
<circle cx="380.1" cy="75.6" r="2.1" fill="none" stroke="#c46ad2" stroke-width="1.1"/>
<circle cx="380.7" cy="78.5" r="2.1" fill="none" stroke="#c46ad2" stroke-width="1.1"/>
<circle cx="383.0" cy="79.6" r="2.1" fill="none" stroke="#c46ad2" stroke-width="1.1"/>
<circle cx="383.9" cy="79.6" r="2.1" fill="none" stroke="#c46ad2" stroke-width="1.1"/>
<circle cx="384.3" cy="83.2" r="2.1" fill="none" stroke="#c46ad2" stroke-width="1.1"/>
<circle cx="385.4" cy="83.5" r="2.1" fill="none" stroke="#c46ad2" stroke-width="1.1"/>
<circle cx="387.7" cy="86.4" r="2.1" fill="none" stroke="#c46ad2" stroke-width="1.1"/>
<circle cx="388.9" cy="84.1" r="2.1" fill="none" stroke="#c46ad2" stroke-width="1.1"/>
<circle cx="389.9" cy="84.6" r="2.1" fill="none" stroke="#c46ad2" stroke-width="1.1"/>
<circle cx="392.9" cy="86.9" r="2.1" fill="none" stroke="#c46ad2" stroke-width="1.1"/>
<circle cx="395.2" cy="82.1" r="2.1" fill="none" stroke="#c46ad2" stroke-width="1.1"/>
<circle cx="396.1" cy="84.0" r="2.1" fill="none" stroke="#c46ad2" stroke-width="1.1"/>
<circle cx="396.8" cy="81.4" r="2.1" fill="none" stroke="#c46ad2" stroke-width="1.1"/>
<circle cx="398.1" cy="77.6" r="2.1" fill="none" stroke="#c46ad2" stroke-width="1.1"/>
<circle cx="398.8" cy="80.2" r="2.1" fill="none" stroke="#c46ad2" stroke-width="1.1"/>
<circle cx="399.9" cy="75.2" r="2.1" fill="none" stroke="#c46ad2" stroke-width="1.1"/>
<circle cx="401.5" cy="77.7" r="2.1" fill="none" stroke="#c46ad2" stroke-width="1.1"/>
<circle cx="402.0" cy="73.3" r="2.1" fill="none" stroke="#c46ad2" stroke-width="1.1"/>
<circle cx="404.0" cy="74.7" r="2.1" fill="none" stroke="#c46ad2" stroke-width="1.1"/>
<circle cx="405.8" cy="73.1" r="2.1" fill="none" stroke="#c46ad2" stroke-width="1.1"/>
<circle cx="406.0" cy="68.7" r="2.1" fill="none" stroke="#c46ad2" stroke-width="1.1"/>
<circle cx="407.5" cy="70.5" r="2.1" fill="none" stroke="#c46ad2" stroke-width="1.1"/>
<circle cx="410.2" cy="64.6" r="2.1" fill="none" stroke="#c46ad2" stroke-width="1.1"/>
<circle cx="410.4" cy="64.4" r="2.1" fill="none" stroke="#c46ad2" stroke-width="1.1"/>
<circle cx="412.3" cy="66.7" r="2.1" fill="none" stroke="#c46ad2" stroke-width="1.1"/>
<circle cx="414.3" cy="66.7" r="2.1" fill="none" stroke="#c46ad2" stroke-width="1.1"/>
<circle cx="414.5" cy="69.0" r="2.1" fill="none" stroke="#c46ad2" stroke-width="1.1"/>
<circle cx="416.9" cy="70.8" r="2.1" fill="none" stroke="#c46ad2" stroke-width="1.1"/>
<circle cx="419.9" cy="72.0" r="2.1" fill="none" stroke="#c46ad2" stroke-width="1.1"/>
<circle cx="420.9" cy="71.8" r="2.1" fill="none" stroke="#c46ad2" stroke-width="1.1"/>
<circle cx="423.0" cy="68.7" r="2.1" fill="none" stroke="#c46ad2" stroke-width="1.1"/>
<circle cx="425.1" cy="74.5" r="2.1" fill="none" stroke="#c46ad2" stroke-width="1.1"/>
<circle cx="426.8" cy="75.4" r="2.1" fill="none" stroke="#c46ad2" stroke-width="1.1"/>
<circle cx="427.7" cy="72.8" r="2.1" fill="none" stroke="#c46ad2" stroke-width="1.1"/>
<circle cx="429.0" cy="73.9" r="2.1" fill="none" stroke="#c46ad2" stroke-width="1.1"/>
<circle cx="430.7" cy="69.7" r="2.1" fill="none" stroke="#c46ad2" stroke-width="1.1"/>
<circle cx="432.8" cy="69.7" r="2.1" fill="none" stroke="#c46ad2" stroke-width="1.1"/>
<circle cx="434.8" cy="68.3" r="2.1" fill="none" stroke="#c46ad2" stroke-width="1.1"/>
<circle cx="435.9" cy="68.1" r="2.1" fill="none" stroke="#c46ad2" stroke-width="1.1"/>
<circle cx="437.8" cy="68.7" r="2.1" fill="none" stroke="#c46ad2" stroke-width="1.1"/>
<circle cx="439.3" cy="71.2" r="2.1" fill="none" stroke="#c46ad2" stroke-width="1.1"/>
<circle cx="442.2" cy="65.5" r="2.1" fill="none" stroke="#c46ad2" stroke-width="1.1"/>
<circle cx="443.2" cy="67.1" r="2.1" fill="none" stroke="#c46ad2" stroke-width="1.1"/>
<circle cx="444.6" cy="67.1" r="2.1" fill="none" stroke="#c46ad2" stroke-width="1.1"/>
<circle cx="447.1" cy="73.9" r="2.1" fill="none" stroke="#c46ad2" stroke-width="1.1"/>
<circle cx="447.8" cy="69.4" r="2.1" fill="none" stroke="#c46ad2" stroke-width="1.1"/>
<circle cx="448.1" cy="65.3" r="2.1" fill="none" stroke="#c46ad2" stroke-width="1.1"/>
<circle cx="449.7" cy="64.8" r="2.1" fill="none" stroke="#c46ad2" stroke-width="1.1"/>
<circle cx="451.9" cy="62.8" r="2.1" fill="none" stroke="#c46ad2" stroke-width="1.1"/>
<circle cx="452.0" cy="68.5" r="2.1" fill="none" stroke="#c46ad2" stroke-width="1.1"/>
<circle cx="454.0" cy="64.8" r="2.1" fill="none" stroke="#c46ad2" stroke-width="1.1"/>
<circle cx="455.0" cy="65.6" r="2.1" fill="none" stroke="#c46ad2" stroke-width="1.1"/>
<circle cx="456.5" cy="73.0" r="2.1" fill="none" stroke="#c46ad2" stroke-width="1.1"/>
<circle cx="458.9" cy="71.7" r="2.1" fill="none" stroke="#c46ad2" stroke-width="1.1"/>
<circle cx="459.6" cy="69.7" r="2.1" fill="none" stroke="#c46ad2" stroke-width="1.1"/>
<circle cx="461.2" cy="71.8" r="2.1" fill="none" stroke="#c46ad2" stroke-width="1.1"/>
<polygon points="424.0,111.5 427.3,114.8 424.0,118.1 420.7,114.8" fill="#000"/>
<text x="435.4" y="118.8" font-size="11.5" font-weight="bold" fill="#111" stroke="#111" stroke-width="0.3">&#963; (MPa)</text>
<circle cx="424.0" cy="127.2" r="2.2" fill="none" stroke="#c46ad2" stroke-width="1.1"/>
<text x="435.4" y="131.5" font-size="11.5" font-weight="bold" fill="#111" stroke="#111" stroke-width="0.3"><tspan font-style="italic" font-size="12.7">L</tspan><tspan font-size="8.0" dy="1.6" font-weight="normal">001</tspan><tspan dy="-1.6">(nm)</tspan></text>
<polygon points="424.0,139.6 421.2,144.4 426.8,144.4" fill="none" stroke="#f3782c" stroke-width="1.15" stroke-linejoin="round"/>
<text x="436.7" y="146.5" font-size="11.5" font-weight="bold" fill="#111" stroke="#111" stroke-width="0.3"><tspan font-weight="normal" font-size="12.1">&#949;</tspan><tspan font-size="8.0" dy="1.6" font-weight="normal">001</tspan></text>
<text x="3.2" y="216.5" font-size="21" fill="#111" stroke="#111" stroke-width="0.3" font-weight="bold" font-style="normal" text-anchor="start" >(c)</text>
<text x="45.2" y="200.5" font-size="10" fill="#333" stroke="#333" stroke-width="0" font-weight="normal" font-style="italic" text-anchor="start" >&#949;</text>
<text x="49.8" y="202.3" font-size="7.0" fill="#333" stroke="#333" stroke-width="0" font-weight="bold" font-style="normal" text-anchor="start" >Y1</text>
<text x="64.4" y="200.5" font-size="10" fill="#333" stroke="#333" stroke-width="0" font-weight="normal" font-style="italic" text-anchor="start" >&#949;</text>
<text x="69.0" y="202.3" font-size="7.0" fill="#333" stroke="#333" stroke-width="0" font-weight="bold" font-style="normal" text-anchor="start" >H</text>
<text x="81.0" y="200.5" font-size="10" fill="#333" stroke="#333" stroke-width="0" font-weight="normal" font-style="italic" text-anchor="start" >&#949;</text>
<text x="85.6" y="202.3" font-size="7.0" fill="#333" stroke="#333" stroke-width="0" font-weight="bold" font-style="normal" text-anchor="start" >Y2</text>
<line x1="51.7" y1="205.0" x2="51.7" y2="345.3" stroke="#c64cd4" stroke-width="1.5" stroke-dasharray="5.1,3.3"/>
<line x1="67.4" y1="205.0" x2="67.4" y2="345.3" stroke="#c64cd4" stroke-width="1.5" stroke-dasharray="5.1,3.3"/>
<line x1="86.0" y1="205.0" x2="86.0" y2="345.3" stroke="#c64cd4" stroke-width="1.5" stroke-dasharray="5.1,3.3"/>
<text transform="translate(16.5,271.0) rotate(-90) scale(1.22,1)" font-size="11.2" font-weight="bold" fill="#222" stroke="#222" stroke-width="0.3" text-anchor="middle"><tspan font-weight="bold" font-size="14">&#963;</tspan> (MPa)</text>
<line x1="36.9" y1="211.0" x2="36.9" y2="345.8" stroke="#4a4a4a" stroke-width="1.4"/>
<line x1="33.9" y1="340.7" x2="36.9" y2="340.7" stroke="#4a4a4a" stroke-width="1.1"/>
<text x="33.4" y="343.7" font-size="11.5" fill="#555555" stroke="#555555" stroke-width="0.3" font-weight="bold" font-style="normal" text-anchor="end" >0</text>
<line x1="33.9" y1="288.6" x2="36.9" y2="288.6" stroke="#4a4a4a" stroke-width="1.1"/>
<text x="33.4" y="291.6" font-size="11.5" fill="#555555" stroke="#555555" stroke-width="0.3" font-weight="bold" font-style="normal" text-anchor="end" >10</text>
<line x1="33.9" y1="237.7" x2="36.9" y2="237.7" stroke="#4a4a4a" stroke-width="1.1"/>
<text x="33.4" y="240.7" font-size="11.5" fill="#555555" stroke="#555555" stroke-width="0.3" font-weight="bold" font-style="normal" text-anchor="end" >20</text>
<line x1="34.9" y1="314.6" x2="36.9" y2="314.6" stroke="#4a4a4a" stroke-width="1.0"/>
<line x1="34.9" y1="263.1" x2="36.9" y2="263.1" stroke="#4a4a4a" stroke-width="1.0"/>
<line x1="36.9" y1="345.8" x2="203.7" y2="345.8" stroke="#1e1e1e" stroke-width="1.6"/>
<line x1="42.0" y1="345.8" x2="42.0" y2="348.8" stroke="#4a4a4a" stroke-width="1.1"/>
<text x="42.0" y="359.3" font-size="11.5" fill="#222222" stroke="#222222" stroke-width="0.3" font-weight="bold" font-style="normal" text-anchor="middle" >0</text>
<line x1="95.2" y1="345.8" x2="95.2" y2="348.8" stroke="#4a4a4a" stroke-width="1.1"/>
<text x="95.2" y="359.3" font-size="11.5" fill="#222222" stroke="#222222" stroke-width="0.3" font-weight="bold" font-style="normal" text-anchor="middle" >1</text>
<line x1="148.8" y1="345.8" x2="148.8" y2="348.8" stroke="#4a4a4a" stroke-width="1.1"/>
<text x="148.8" y="359.3" font-size="11.5" fill="#222222" stroke="#222222" stroke-width="0.3" font-weight="bold" font-style="normal" text-anchor="middle" >2</text>
<line x1="202.2" y1="345.8" x2="202.2" y2="348.8" stroke="#4a4a4a" stroke-width="1.1"/>
<text x="202.2" y="359.3" font-size="11.5" fill="#222222" stroke="#222222" stroke-width="0.3" font-weight="bold" font-style="normal" text-anchor="middle" >3</text>
<line x1="68.6" y1="345.8" x2="68.6" y2="347.8" stroke="#4a4a4a" stroke-width="1.0"/>
<line x1="122.0" y1="345.8" x2="122.0" y2="347.8" stroke="#4a4a4a" stroke-width="1.0"/>
<line x1="175.5" y1="345.8" x2="175.5" y2="347.8" stroke="#4a4a4a" stroke-width="1.0"/>
<line x1="203.7" y1="209.7" x2="203.7" y2="346.2" stroke="#3f934a" stroke-width="1.7"/>
<line x1="203.7" y1="211.5" x2="206.7" y2="211.5" stroke="#3f934a" stroke-width="1.1"/>
<text x="206.2" y="215.7" font-size="12.5" fill="#3f934a" stroke="#3f934a" stroke-width="0.3" font-weight="bold" font-style="normal" text-anchor="start" >0.02</text>
<line x1="203.7" y1="245.0" x2="206.7" y2="245.0" stroke="#3f934a" stroke-width="1.1"/>
<text x="206.2" y="249.2" font-size="12.5" fill="#3f934a" stroke="#3f934a" stroke-width="0.3" font-weight="bold" font-style="normal" text-anchor="start" >0.01</text>
<line x1="203.7" y1="279.3" x2="206.7" y2="279.3" stroke="#3f934a" stroke-width="1.1"/>
<text x="206.2" y="283.5" font-size="12.5" fill="#3f934a" stroke="#3f934a" stroke-width="0.3" font-weight="bold" font-style="normal" text-anchor="start" >0.00</text>
<line x1="203.7" y1="313.3" x2="206.7" y2="313.3" stroke="#3f934a" stroke-width="1.1"/>
<text x="206.2" y="317.5" font-size="12.5" fill="#3f934a" stroke="#3f934a" stroke-width="0.3" font-weight="bold" font-style="normal" text-anchor="start" >-0.01</text>
<line x1="203.7" y1="346.3" x2="206.7" y2="346.3" stroke="#3f934a" stroke-width="1.1"/>
<text x="206.2" y="350.5" font-size="12.5" fill="#3f934a" stroke="#3f934a" stroke-width="0.3" font-weight="bold" font-style="normal" text-anchor="start" >-0.02</text>
<line x1="239.3" y1="211.5" x2="239.3" y2="346.5" stroke="#5a47bc" stroke-width="1.7"/>
<line x1="239.3" y1="238.0" x2="242.3" y2="238.0" stroke="#5a47bc" stroke-width="1.1"/>
<text x="240.1" y="242.2" font-size="12.5" fill="#5a47bc" stroke="#5a47bc" stroke-width="0.3" font-weight="bold" font-style="normal" text-anchor="start" >15</text>
<line x1="239.3" y1="281.7" x2="242.3" y2="281.7" stroke="#5a47bc" stroke-width="1.1"/>
<text x="240.1" y="285.9" font-size="12.5" fill="#5a47bc" stroke="#5a47bc" stroke-width="0.3" font-weight="bold" font-style="normal" text-anchor="start" >10</text>
<line x1="239.3" y1="326.6" x2="242.3" y2="326.6" stroke="#5a47bc" stroke-width="1.1"/>
<text x="240.1" y="330.8" font-size="12.5" fill="#5a47bc" stroke="#5a47bc" stroke-width="0.3" font-weight="bold" font-style="normal" text-anchor="start" >5</text>
<line x1="239.3" y1="259.8" x2="241.3" y2="259.8" stroke="#5a47bc" stroke-width="1.0"/>
<line x1="239.3" y1="304.1" x2="241.3" y2="304.1" stroke="#5a47bc" stroke-width="1.0"/>
<text x="198.0" y="198.3" font-size="12.5" font-weight="bold" font-style="italic" fill="#3f934a">&#949;<tspan font-size="7.5" dy="1.4">200</tspan></text>
<text x="218.0" y="198.3" font-size="11.5" font-weight="bold" font-style="italic" fill="#5a47bc">L<tspan font-size="7.5" dy="1.4">200</tspan><tspan dy="-1.4">/nm</tspan></text>
<text x="98.0" y="217.4" font-size="16.5" fill="#111" stroke="#111" stroke-width="0.3" font-weight="bold" font-style="normal" text-anchor="start" >PE- 78</text>
<text x="118.0" y="369.5" font-size="24" fill="#222" stroke="#222" stroke-width="0.18" font-weight="normal" font-style="italic" text-anchor="start" >&#949;</text>
<polyline points="41.5,340.0 41.7,339.0 41.9,337.8 42.2,336.3 42.5,334.6 42.9,332.9 43.3,331.0 43.6,329.2 44.0,327.4 44.4,325.8 44.7,324.3 45.0,323.0 45.4,321.7 45.7,320.4 46.0,319.2 46.3,318.0 46.7,316.9 47.0,315.8 47.3,314.8 47.7,313.8 48.0,312.9 48.3,312.0 48.6,311.2 48.9,310.4 49.2,309.7 49.5,309.0 49.7,308.3 50.1,307.8 50.4,307.2 50.8,306.7 51.3,306.3 51.8,305.9 52.4,305.7 53.1,305.5 53.7,305.4 54.5,305.3 55.2,305.2 55.9,305.1 56.6,305.0 57.2,304.9 57.8,304.7 58.3,304.5 58.9,304.2 59.3,303.9 59.8,303.7 60.2,303.4 60.7,303.0 61.2,302.7 61.6,302.3 62.1,301.9 62.7,301.4 63.3,300.9 63.9,300.3 64.6,299.6 65.2,298.9 65.9,298.2 66.6,297.5 67.3,296.8 68.0,296.1 68.6,295.5 69.3,294.9 69.9,294.4 70.6,294.0 71.2,293.6 71.7,293.2 72.3,292.8 73.0,292.5 73.6,292.1 74.3,291.8 75.0,291.4 75.8,291.0 76.6,290.6 77.5,290.1 78.5,289.7 79.5,289.2 80.5,288.8 81.5,288.3 82.6,287.9 83.6,287.4 84.6,287.1 85.6,286.7 86.6,286.4 87.5,286.1 88.3,285.9 89.2,285.7 90.1,285.5 91.0,285.4 92.0,285.2 93.0,284.9 94.2,284.7 95.4,284.4 96.8,284.1 98.3,283.7 99.8,283.4 101.5,283.0 103.2,282.6 104.9,282.1 106.7,281.7 108.4,281.2 110.1,280.7 111.8,280.2 113.5,279.7 115.1,279.1 116.8,278.5 118.5,278.0 120.2,277.3 121.9,276.7 123.5,276.0 125.1,275.3 126.7,274.5 128.2,273.6 129.6,272.7 131.0,271.7 132.4,270.6 133.7,269.5 135.0,268.3 136.2,267.1 137.5,265.9 138.7,264.7 140.0,263.4 141.3,262.2 142.6,261.0 144.0,259.7 145.3,258.4 146.7,257.2 148.0,255.9 149.3,254.5 150.6,253.2 151.9,251.8 153.1,250.5 154.3,249.1 155.4,247.7 156.5,246.2 157.5,244.6 158.5,243.0 159.4,241.4 160.4,239.9 161.3,238.4 162.3,236.9 163.2,235.6 164.2,234.4 165.2,233.3 166.3,232.2 167.4,231.2 168.4,230.3 169.5,229.4 170.6,228.6 171.5,227.8 172.5,227.2 173.3,226.7 174.0,226.2 174.6,225.9 175.1,225.7 175.5,225.6 175.9,225.6 176.2,225.7 176.5,225.9 176.7,226.0 176.9,226.2 177.0,226.3 177.2,226.3" fill="none" stroke="#3c3c3c" stroke-width="3.6" stroke-linejoin="round" stroke-linecap="round"/>
<polygon points="43.1,273.6 39.8,279.2 46.3,279.2" fill="none" stroke="#3f934a" stroke-width="1.15" stroke-linejoin="round"/>
<polygon points="46.5,272.6 43.3,278.2 49.8,278.2" fill="none" stroke="#3f934a" stroke-width="1.15" stroke-linejoin="round"/>
<polygon points="49.7,272.0 46.5,277.6 53.0,277.6" fill="none" stroke="#3f934a" stroke-width="1.15" stroke-linejoin="round"/>
<polygon points="53.0,271.7 49.7,277.4 56.2,277.4" fill="none" stroke="#3f934a" stroke-width="1.15" stroke-linejoin="round"/>
<polygon points="56.5,272.3 53.3,277.9 59.8,277.9" fill="none" stroke="#3f934a" stroke-width="1.15" stroke-linejoin="round"/>
<polygon points="59.7,272.5 56.4,278.1 62.9,278.1" fill="none" stroke="#3f934a" stroke-width="1.15" stroke-linejoin="round"/>
<polygon points="62.9,274.0 59.7,279.6 66.2,279.6" fill="none" stroke="#3f934a" stroke-width="1.15" stroke-linejoin="round"/>
<polygon points="66.4,273.9 63.2,279.6 69.7,279.6" fill="none" stroke="#3f934a" stroke-width="1.15" stroke-linejoin="round"/>
<polygon points="69.3,277.0 66.1,282.6 72.6,282.6" fill="none" stroke="#3f934a" stroke-width="1.15" stroke-linejoin="round"/>
<polygon points="71.6,279.0 68.3,284.6 74.8,284.6" fill="none" stroke="#3f934a" stroke-width="1.15" stroke-linejoin="round"/>
<polygon points="74.2,280.1 71.0,285.8 77.5,285.8" fill="none" stroke="#3f934a" stroke-width="1.15" stroke-linejoin="round"/>
<polygon points="77.5,281.5 74.2,287.1 80.7,287.1" fill="none" stroke="#3f934a" stroke-width="1.15" stroke-linejoin="round"/>
<polygon points="80.6,282.7 77.4,288.3 83.9,288.3" fill="none" stroke="#3f934a" stroke-width="1.15" stroke-linejoin="round"/>
<polygon points="83.9,282.8 80.7,288.4 87.2,288.4" fill="none" stroke="#3f934a" stroke-width="1.15" stroke-linejoin="round"/>
<polygon points="87.3,282.1 84.0,287.8 90.5,287.8" fill="none" stroke="#3f934a" stroke-width="1.15" stroke-linejoin="round"/>
<polygon points="90.4,280.5 87.2,286.2 93.7,286.2" fill="none" stroke="#3f934a" stroke-width="1.15" stroke-linejoin="round"/>
<polygon points="95.4,276.8 92.2,282.5 98.7,282.5" fill="none" stroke="#3f934a" stroke-width="1.15" stroke-linejoin="round"/>
<polygon points="98.7,270.2 95.5,275.9 102.0,275.9" fill="none" stroke="#3f934a" stroke-width="1.15" stroke-linejoin="round"/>
<polygon points="102.0,273.1 98.8,278.8 105.2,278.8" fill="none" stroke="#3f934a" stroke-width="1.15" stroke-linejoin="round"/>
<polygon points="104.3,270.4 101.0,276.1 107.5,276.1" fill="none" stroke="#3f934a" stroke-width="1.15" stroke-linejoin="round"/>
<polygon points="108.5,271.9 105.2,277.6 111.8,277.6" fill="none" stroke="#3f934a" stroke-width="1.15" stroke-linejoin="round"/>
<polygon points="112.0,273.6 108.8,279.3 115.2,279.3" fill="none" stroke="#3f934a" stroke-width="1.15" stroke-linejoin="round"/>
<polygon points="114.5,276.8 111.2,282.5 117.8,282.5" fill="none" stroke="#3f934a" stroke-width="1.15" stroke-linejoin="round"/>
<polygon points="118.4,267.0 115.2,272.7 121.7,272.7" fill="none" stroke="#3f934a" stroke-width="1.15" stroke-linejoin="round"/>
<polygon points="121.0,271.1 117.8,276.8 124.2,276.8" fill="none" stroke="#3f934a" stroke-width="1.15" stroke-linejoin="round"/>
<polygon points="124.9,270.2 121.7,275.9 128.2,275.9" fill="none" stroke="#3f934a" stroke-width="1.15" stroke-linejoin="round"/>
<polygon points="127.2,269.1 124.0,274.8 130.4,274.8" fill="none" stroke="#3f934a" stroke-width="1.15" stroke-linejoin="round"/>
<polygon points="128.2,267.0 124.9,272.7 131.4,272.7" fill="none" stroke="#3f934a" stroke-width="1.15" stroke-linejoin="round"/>
<polygon points="131.0,264.6 127.8,270.3 134.2,270.3" fill="none" stroke="#3f934a" stroke-width="1.15" stroke-linejoin="round"/>
<polygon points="134.7,257.1 131.4,262.8 137.9,262.8" fill="none" stroke="#3f934a" stroke-width="1.15" stroke-linejoin="round"/>
<polygon points="138.0,239.1 134.8,244.8 141.2,244.8" fill="none" stroke="#3f934a" stroke-width="1.15" stroke-linejoin="round"/>
<polygon points="140.5,242.6 137.2,248.3 143.8,248.3" fill="none" stroke="#3f934a" stroke-width="1.15" stroke-linejoin="round"/>
<polygon points="142.9,237.5 139.7,243.2 146.2,243.2" fill="none" stroke="#3f934a" stroke-width="1.15" stroke-linejoin="round"/>
<polygon points="144.5,227.7 141.2,233.4 147.8,233.4" fill="none" stroke="#3f934a" stroke-width="1.15" stroke-linejoin="round"/>
<polygon points="146.2,226.7 142.9,232.4 149.4,232.4" fill="none" stroke="#3f934a" stroke-width="1.15" stroke-linejoin="round"/>
<polygon points="149.4,231.0 146.2,236.7 152.7,236.7" fill="none" stroke="#3f934a" stroke-width="1.15" stroke-linejoin="round"/>
<polygon points="152.7,217.9 149.4,223.6 155.9,223.6" fill="none" stroke="#3f934a" stroke-width="1.15" stroke-linejoin="round"/>
<polygon points="156.0,216.2 152.8,221.9 159.2,221.9" fill="none" stroke="#3f934a" stroke-width="1.15" stroke-linejoin="round"/>
<polygon points="160.9,213.0 157.7,218.7 164.2,218.7" fill="none" stroke="#3f934a" stroke-width="1.15" stroke-linejoin="round"/>
<circle cx="43.1" cy="263.8" r="2.1" fill="none" stroke="#5a47bc" stroke-width="1.1"/>
<circle cx="44.7" cy="258.9" r="2.1" fill="none" stroke="#5a47bc" stroke-width="1.1"/>
<circle cx="46.4" cy="252.4" r="2.1" fill="none" stroke="#5a47bc" stroke-width="1.1"/>
<circle cx="48.0" cy="249.1" r="2.1" fill="none" stroke="#5a47bc" stroke-width="1.1"/>
<circle cx="49.6" cy="245.8" r="2.1" fill="none" stroke="#5a47bc" stroke-width="1.1"/>
<circle cx="52.9" cy="242.5" r="2.1" fill="none" stroke="#5a47bc" stroke-width="1.1"/>
<circle cx="56.2" cy="240.9" r="2.1" fill="none" stroke="#5a47bc" stroke-width="1.1"/>
<circle cx="59.5" cy="237.6" r="2.1" fill="none" stroke="#5a47bc" stroke-width="1.1"/>
<circle cx="62.7" cy="236.6" r="2.1" fill="none" stroke="#5a47bc" stroke-width="1.1"/>
<circle cx="66.0" cy="240.9" r="2.1" fill="none" stroke="#5a47bc" stroke-width="1.1"/>
<circle cx="69.3" cy="245.8" r="2.1" fill="none" stroke="#5a47bc" stroke-width="1.1"/>
<circle cx="72.5" cy="249.1" r="2.1" fill="none" stroke="#5a47bc" stroke-width="1.1"/>
<circle cx="75.8" cy="254.0" r="2.1" fill="none" stroke="#5a47bc" stroke-width="1.1"/>
<circle cx="79.1" cy="260.5" r="2.1" fill="none" stroke="#5a47bc" stroke-width="1.1"/>
<circle cx="82.4" cy="268.7" r="2.1" fill="none" stroke="#5a47bc" stroke-width="1.1"/>
<circle cx="84.0" cy="271.3" r="2.1" fill="none" stroke="#5a47bc" stroke-width="1.1"/>
<circle cx="85.6" cy="278.5" r="2.1" fill="none" stroke="#5a47bc" stroke-width="1.1"/>
<circle cx="92.2" cy="293.3" r="2.1" fill="none" stroke="#5a47bc" stroke-width="1.1"/>
<circle cx="95.4" cy="291.6" r="2.1" fill="none" stroke="#5a47bc" stroke-width="1.1"/>
<circle cx="95.4" cy="298.2" r="2.1" fill="none" stroke="#5a47bc" stroke-width="1.1"/>
<circle cx="99.2" cy="298.0" r="2.1" fill="none" stroke="#5a47bc" stroke-width="1.1"/>
<circle cx="100.4" cy="306.3" r="2.1" fill="none" stroke="#5a47bc" stroke-width="1.1"/>
<circle cx="106.9" cy="306.3" r="2.1" fill="none" stroke="#5a47bc" stroke-width="1.1"/>
<circle cx="110.2" cy="314.5" r="2.1" fill="none" stroke="#5a47bc" stroke-width="1.1"/>
<circle cx="112.0" cy="315.8" r="2.1" fill="none" stroke="#5a47bc" stroke-width="1.1"/>
<circle cx="115.1" cy="319.4" r="2.1" fill="none" stroke="#5a47bc" stroke-width="1.1"/>
<circle cx="117.0" cy="320.9" r="2.1" fill="none" stroke="#5a47bc" stroke-width="1.1"/>
<circle cx="121.6" cy="322.7" r="2.1" fill="none" stroke="#5a47bc" stroke-width="1.1"/>
<circle cx="124.7" cy="323.4" r="2.1" fill="none" stroke="#5a47bc" stroke-width="1.1"/>
<circle cx="128.2" cy="324.3" r="2.1" fill="none" stroke="#5a47bc" stroke-width="1.1"/>
<circle cx="132.3" cy="323.4" r="2.1" fill="none" stroke="#5a47bc" stroke-width="1.1"/>
<circle cx="134.7" cy="324.3" r="2.1" fill="none" stroke="#5a47bc" stroke-width="1.1"/>
<circle cx="137.4" cy="324.7" r="2.1" fill="none" stroke="#5a47bc" stroke-width="1.1"/>
<circle cx="124.7" cy="333.6" r="2.1" fill="none" stroke="#5a47bc" stroke-width="1.1"/>
<circle cx="129.8" cy="333.6" r="2.1" fill="none" stroke="#5a47bc" stroke-width="1.1"/>
<circle cx="138.3" cy="327.3" r="2.1" fill="none" stroke="#5a47bc" stroke-width="1.1"/>
<circle cx="143.4" cy="333.6" r="2.1" fill="none" stroke="#5a47bc" stroke-width="1.1"/>
<circle cx="147.2" cy="332.3" r="2.1" fill="none" stroke="#5a47bc" stroke-width="1.1"/>
<circle cx="151.0" cy="326.5" r="2.1" fill="none" stroke="#5a47bc" stroke-width="1.1"/>
<circle cx="152.3" cy="331.0" r="2.1" fill="none" stroke="#5a47bc" stroke-width="1.1"/>
<circle cx="154.8" cy="333.6" r="2.1" fill="none" stroke="#5a47bc" stroke-width="1.1"/>
<circle cx="157.4" cy="329.0" r="2.1" fill="none" stroke="#5a47bc" stroke-width="1.1"/>
<circle cx="159.9" cy="331.6" r="2.1" fill="none" stroke="#5a47bc" stroke-width="1.1"/>
<circle cx="162.4" cy="334.9" r="2.1" fill="none" stroke="#5a47bc" stroke-width="1.1"/>
<circle cx="165.0" cy="338.7" r="2.1" fill="none" stroke="#5a47bc" stroke-width="1.1"/>
<circle cx="168.8" cy="338.2" r="2.1" fill="none" stroke="#5a47bc" stroke-width="1.1"/>
<circle cx="171.4" cy="336.2" r="2.1" fill="none" stroke="#5a47bc" stroke-width="1.1"/>
<circle cx="175.2" cy="334.9" r="2.1" fill="none" stroke="#5a47bc" stroke-width="1.1"/>
<circle cx="176.4" cy="333.6" r="2.1" fill="none" stroke="#5a47bc" stroke-width="1.1"/>
<polygon points="145.9,275.6 149.2,278.9 145.9,282.2 142.6,278.9" fill="#000"/>
<text x="156.0" y="283.2" font-size="10.5" font-weight="bold" fill="#111" stroke="#111" stroke-width="0.3">&#963; (MPa)</text>
<circle cx="144.6" cy="291.6" r="2.2" fill="none" stroke="#5a47bc" stroke-width="1.1"/>
<text x="156.0" y="296.0" font-size="10.5" font-weight="bold" fill="#111" stroke="#111" stroke-width="0.3"><tspan font-style="italic" font-size="11.6">L</tspan><tspan font-size="7.3" dy="1.6" font-weight="normal">200</tspan><tspan dy="-1.6"> (nm)</tspan></text>
<polygon points="144.6,304.8 141.8,309.6 147.4,309.6" fill="none" stroke="#3f934a" stroke-width="1.15" stroke-linejoin="round"/>
<text x="160.0" y="311.5" font-size="10.5" font-weight="bold" fill="#111" stroke="#111" stroke-width="0.3"><tspan font-weight="normal" font-size="11.0">&#949;</tspan><tspan font-size="7.3" dy="1.6" font-weight="normal">200</tspan></text>
<text x="260.0" y="217.0" font-size="21" fill="#111" stroke="#111" stroke-width="0.3" font-weight="bold" font-style="normal" text-anchor="start" >(d)</text>
<text x="332.3" y="198.5" font-size="10" fill="#333" stroke="#333" stroke-width="0" font-weight="normal" font-style="italic" text-anchor="start" >&#949;</text>
<text x="336.9" y="200.3" font-size="7.0" fill="#333" stroke="#333" stroke-width="0" font-weight="bold" font-style="normal" text-anchor="start" >Y1</text>
<text x="348.8" y="198.5" font-size="10" fill="#333" stroke="#333" stroke-width="0" font-weight="normal" font-style="italic" text-anchor="start" >&#949;</text>
<text x="353.4" y="200.3" font-size="7.0" fill="#333" stroke="#333" stroke-width="0" font-weight="bold" font-style="normal" text-anchor="start" >H</text>
<text x="368.7" y="198.5" font-size="10" fill="#333" stroke="#333" stroke-width="0" font-weight="normal" font-style="italic" text-anchor="start" >&#949;</text>
<text x="373.3" y="200.3" font-size="7.0" fill="#333" stroke="#333" stroke-width="0" font-weight="bold" font-style="normal" text-anchor="start" >Y2</text>
<line x1="337.4" y1="203.4" x2="337.4" y2="341.0" stroke="#c64cd4" stroke-width="1.5" stroke-dasharray="5.1,3.3"/>
<line x1="354.7" y1="203.4" x2="354.7" y2="341.0" stroke="#c64cd4" stroke-width="1.5" stroke-dasharray="5.1,3.3"/>
<line x1="373.0" y1="203.4" x2="373.0" y2="341.0" stroke="#c64cd4" stroke-width="1.5" stroke-dasharray="5.1,3.3"/>
<text transform="translate(305.4,267.0) rotate(-90) scale(1.22,1)" font-size="11.2" font-weight="bold" fill="#222" stroke="#222" stroke-width="0.3" text-anchor="middle"><tspan font-weight="bold" font-size="14">&#963;</tspan> (MPa)</text>
<line x1="324.0" y1="207.2" x2="324.0" y2="341.5" stroke="#4a4a4a" stroke-width="1.4"/>
<line x1="321.0" y1="336.2" x2="324.0" y2="336.2" stroke="#4a4a4a" stroke-width="1.1"/>
<text x="320.5" y="339.2" font-size="11.5" fill="#555555" stroke="#555555" stroke-width="0.3" font-weight="bold" font-style="normal" text-anchor="end" >0</text>
<line x1="321.0" y1="284.5" x2="324.0" y2="284.5" stroke="#4a4a4a" stroke-width="1.1"/>
<text x="320.5" y="287.5" font-size="11.5" fill="#555555" stroke="#555555" stroke-width="0.3" font-weight="bold" font-style="normal" text-anchor="end" >10</text>
<line x1="321.0" y1="233.9" x2="324.0" y2="233.9" stroke="#4a4a4a" stroke-width="1.1"/>
<text x="320.5" y="236.9" font-size="11.5" fill="#555555" stroke="#555555" stroke-width="0.3" font-weight="bold" font-style="normal" text-anchor="end" >20</text>
<line x1="322.0" y1="310.3" x2="324.0" y2="310.3" stroke="#4a4a4a" stroke-width="1.0"/>
<line x1="322.0" y1="259.2" x2="324.0" y2="259.2" stroke="#4a4a4a" stroke-width="1.0"/>
<line x1="324.0" y1="341.5" x2="491.8" y2="341.5" stroke="#1e1e1e" stroke-width="1.6"/>
<line x1="329.6" y1="341.5" x2="329.6" y2="344.5" stroke="#4a4a4a" stroke-width="1.1"/>
<text x="329.6" y="355.0" font-size="11.5" fill="#222222" stroke="#222222" stroke-width="0.3" font-weight="bold" font-style="normal" text-anchor="middle" >0</text>
<line x1="382.8" y1="341.5" x2="382.8" y2="344.5" stroke="#4a4a4a" stroke-width="1.1"/>
<text x="382.8" y="355.0" font-size="11.5" fill="#222222" stroke="#222222" stroke-width="0.3" font-weight="bold" font-style="normal" text-anchor="middle" >1</text>
<line x1="436.3" y1="341.5" x2="436.3" y2="344.5" stroke="#4a4a4a" stroke-width="1.1"/>
<text x="436.3" y="355.0" font-size="11.5" fill="#222222" stroke="#222222" stroke-width="0.3" font-weight="bold" font-style="normal" text-anchor="middle" >2</text>
<line x1="489.7" y1="341.5" x2="489.7" y2="344.5" stroke="#4a4a4a" stroke-width="1.1"/>
<text x="489.7" y="355.0" font-size="11.5" fill="#222222" stroke="#222222" stroke-width="0.3" font-weight="bold" font-style="normal" text-anchor="middle" >3</text>
<line x1="356.2" y1="341.5" x2="356.2" y2="343.5" stroke="#4a4a4a" stroke-width="1.0"/>
<line x1="409.5" y1="341.5" x2="409.5" y2="343.5" stroke="#4a4a4a" stroke-width="1.0"/>
<line x1="463.0" y1="341.5" x2="463.0" y2="343.5" stroke="#4a4a4a" stroke-width="1.0"/>
<line x1="491.8" y1="207.9" x2="491.8" y2="342.5" stroke="#f3782c" stroke-width="1.7"/>
<line x1="491.8" y1="236.4" x2="494.8" y2="236.4" stroke="#f3782c" stroke-width="1.1"/>
<text x="494.3" y="240.6" font-size="12.5" fill="#f3782c" stroke="#f3782c" stroke-width="0.3" font-weight="bold" font-style="normal" text-anchor="start" >0.00</text>
<line x1="491.8" y1="307.7" x2="494.8" y2="307.7" stroke="#f3782c" stroke-width="1.1"/>
<text x="494.3" y="311.9" font-size="12.5" fill="#f3782c" stroke="#f3782c" stroke-width="0.3" font-weight="bold" font-style="normal" text-anchor="start" >-0.01</text>
<line x1="491.8" y1="272.0" x2="493.8" y2="272.0" stroke="#f3782c" stroke-width="1.0"/>
<line x1="524.8" y1="207.9" x2="524.8" y2="342.5" stroke="#c46ad2" stroke-width="1.7"/>
<line x1="524.8" y1="220.5" x2="527.8" y2="220.5" stroke="#c46ad2" stroke-width="1.1"/>
<text x="527.3" y="224.7" font-size="12.5" fill="#c46ad2" stroke="#c46ad2" stroke-width="0.3" font-weight="bold" font-style="normal" text-anchor="start" >18</text>
<line x1="524.8" y1="254.3" x2="527.8" y2="254.3" stroke="#c46ad2" stroke-width="1.1"/>
<text x="527.3" y="258.5" font-size="12.5" fill="#c46ad2" stroke="#c46ad2" stroke-width="0.3" font-weight="bold" font-style="normal" text-anchor="start" >15</text>
<line x1="524.8" y1="288.5" x2="527.8" y2="288.5" stroke="#c46ad2" stroke-width="1.1"/>
<text x="527.3" y="292.7" font-size="12.5" fill="#c46ad2" stroke="#c46ad2" stroke-width="0.3" font-weight="bold" font-style="normal" text-anchor="start" >12</text>
<line x1="524.8" y1="321.0" x2="527.8" y2="321.0" stroke="#c46ad2" stroke-width="1.1"/>
<text x="527.3" y="325.2" font-size="12.5" fill="#c46ad2" stroke="#c46ad2" stroke-width="0.3" font-weight="bold" font-style="normal" text-anchor="start" >9</text>
<line x1="524.8" y1="237.4" x2="526.8" y2="237.4" stroke="#c46ad2" stroke-width="1.0"/>
<line x1="524.8" y1="271.4" x2="526.8" y2="271.4" stroke="#c46ad2" stroke-width="1.0"/>
<line x1="524.8" y1="304.7" x2="526.8" y2="304.7" stroke="#c46ad2" stroke-width="1.0"/>
<line x1="524.8" y1="337.5" x2="526.8" y2="337.5" stroke="#c46ad2" stroke-width="1.0"/>
<text x="483.8" y="197.3" font-size="12.5" font-weight="bold" font-style="italic" fill="#f3782c">&#949;<tspan font-size="7.5" dy="1.4">001</tspan></text>
<text x="507.8" y="197.3" font-size="11.5" font-weight="bold" font-style="italic" fill="#c46ad2">L<tspan font-size="7.5" dy="1.4">001</tspan><tspan dy="-1.4">/nm</tspan></text>
<text x="392.2" y="221.3" font-size="16.5" fill="#111" stroke="#111" stroke-width="0.3" font-weight="bold" font-style="normal" text-anchor="start" >PE- 78</text>
<text x="406.7" y="368.0" font-size="24" fill="#222" stroke="#222" stroke-width="0.18" font-weight="normal" font-style="italic" text-anchor="start" >&#949;</text>
<polyline points="329.8,336.2 329.9,335.6 330.0,334.8 330.2,333.9 330.4,332.9 330.6,331.7 330.8,330.6 331.0,329.4 331.2,328.2 331.4,327.1 331.6,326.0 331.8,325.0 332.0,323.9 332.2,322.9 332.4,321.9 332.6,320.8 332.7,319.8 332.9,318.8 333.2,317.8 333.4,316.8 333.6,315.8 333.8,314.8 334.1,313.9 334.3,312.9 334.5,311.9 334.8,310.9 335.0,310.0 335.3,309.2 335.6,308.3 335.9,307.6 336.2,306.9 336.5,306.3 336.9,305.8 337.2,305.3 337.6,304.9 337.9,304.5 338.3,304.2 338.7,303.9 339.1,303.6 339.6,303.4 340.0,303.1 340.5,302.9 341.0,302.7 341.5,302.6 342.0,302.5 342.6,302.4 343.1,302.3 343.6,302.2 344.1,302.1 344.6,302.0 345.1,301.8 345.5,301.6 345.9,301.4 346.3,301.2 346.7,301.0 347.1,300.8 347.4,300.5 347.8,300.3 348.2,300.0 348.5,299.7 348.9,299.3 349.3,298.9 349.6,298.4 350.0,298.0 350.4,297.4 350.7,296.9 351.1,296.4 351.5,295.8 351.9,295.3 352.3,294.7 352.7,294.2 353.2,293.7 353.6,293.2 354.1,292.7 354.6,292.2 355.1,291.6 355.6,291.1 356.1,290.6 356.7,290.1 357.2,289.6 357.8,289.1 358.4,288.6 359.0,288.1 359.6,287.5 360.2,287.0 360.8,286.4 361.4,285.9 362.1,285.4 362.7,284.9 363.4,284.4 364.1,284.0 364.8,283.6 365.5,283.2 366.2,282.8 367.0,282.5 367.7,282.1 368.5,281.8 369.3,281.5 370.1,281.2 370.9,281.0 371.8,280.7 372.7,280.5 373.6,280.3 374.6,280.1 375.5,279.9 376.5,279.8 377.6,279.6 378.6,279.5 379.7,279.3 380.8,279.1 382.0,278.9 383.2,278.7 384.4,278.4 385.7,278.1 387.0,277.8 388.3,277.5 389.7,277.2 391.1,276.9 392.5,276.6 393.9,276.2 395.4,275.9 396.9,275.6 398.5,275.2 400.2,274.9 401.9,274.6 403.6,274.3 405.3,273.9 407.0,273.5 408.7,273.1 410.3,272.6 411.8,272.0 413.2,271.4 414.6,270.7 416.0,270.0 417.3,269.2 418.6,268.4 419.8,267.5 421.1,266.6 422.3,265.7 423.6,264.8 424.9,263.8 426.2,262.8 427.6,261.8 428.9,260.7 430.3,259.6 431.7,258.4 433.0,257.2 434.3,256.0 435.6,254.8 436.8,253.6 438.0,252.4 439.1,251.2 440.2,249.9 441.2,248.5 442.2,247.2 443.1,245.9 444.0,244.5 445.0,243.2 445.9,241.8 446.8,240.6 447.8,239.3 448.8,238.1 449.8,236.8 450.8,235.5 451.9,234.3 452.9,233.1 453.9,231.9 454.9,230.7 455.8,229.7 456.7,228.7 457.6,227.8 458.4,227.0 459.3,226.3 460.1,225.6 460.9,225.0 461.7,224.5 462.4,224.0 463.0,223.6 463.6,223.2 464.1,222.9 464.5,222.6" fill="none" stroke="#3c3c3c" stroke-width="3.6" stroke-linejoin="round" stroke-linecap="round"/>
<polygon points="338.7,231.8 335.4,237.5 341.9,237.5" fill="none" stroke="#f3782c" stroke-width="1.15" stroke-linejoin="round"/>
<polygon points="340.7,236.9 337.4,242.6 343.9,242.6" fill="none" stroke="#f3782c" stroke-width="1.15" stroke-linejoin="round"/>
<polygon points="342.0,244.5 338.8,250.2 345.2,250.2" fill="none" stroke="#f3782c" stroke-width="1.15" stroke-linejoin="round"/>
<polygon points="343.0,253.4 339.8,259.1 346.2,259.1" fill="none" stroke="#f3782c" stroke-width="1.15" stroke-linejoin="round"/>
<polygon points="343.3,266.1 340.1,271.8 346.6,271.8" fill="none" stroke="#f3782c" stroke-width="1.15" stroke-linejoin="round"/>
<polygon points="343.8,269.1 340.6,274.8 347.1,274.8" fill="none" stroke="#f3782c" stroke-width="1.15" stroke-linejoin="round"/>
<polygon points="344.6,281.9 341.4,287.6 347.9,287.6" fill="none" stroke="#f3782c" stroke-width="1.15" stroke-linejoin="round"/>
<polygon points="344.7,293.1 341.4,298.8 347.9,298.8" fill="none" stroke="#f3782c" stroke-width="1.15" stroke-linejoin="round"/>
<polygon points="345.9,295.7 342.6,301.3 349.1,301.3" fill="none" stroke="#f3782c" stroke-width="1.15" stroke-linejoin="round"/>
<polygon points="345.4,293.5 342.2,299.1 348.7,299.1" fill="none" stroke="#f3782c" stroke-width="1.15" stroke-linejoin="round"/>
<polygon points="345.9,294.9 342.7,300.6 349.2,300.6" fill="none" stroke="#f3782c" stroke-width="1.15" stroke-linejoin="round"/>
<polygon points="347.6,295.9 344.3,301.5 350.8,301.5" fill="none" stroke="#f3782c" stroke-width="1.15" stroke-linejoin="round"/>
<polygon points="347.8,297.8 344.6,303.5 351.1,303.5" fill="none" stroke="#f3782c" stroke-width="1.15" stroke-linejoin="round"/>
<polygon points="348.0,300.6 344.8,306.3 351.3,306.3" fill="none" stroke="#f3782c" stroke-width="1.15" stroke-linejoin="round"/>
<polygon points="349.6,303.2 346.4,308.8 352.9,308.8" fill="none" stroke="#f3782c" stroke-width="1.15" stroke-linejoin="round"/>
<polygon points="348.8,302.6 345.5,308.3 352.0,308.3" fill="none" stroke="#f3782c" stroke-width="1.15" stroke-linejoin="round"/>
<polygon points="349.6,307.7 346.4,313.3 352.9,313.3" fill="none" stroke="#f3782c" stroke-width="1.15" stroke-linejoin="round"/>
<polygon points="351.6,308.7 348.3,314.3 354.8,314.3" fill="none" stroke="#f3782c" stroke-width="1.15" stroke-linejoin="round"/>
<polygon points="352.7,309.5 349.4,315.2 355.9,315.2" fill="none" stroke="#f3782c" stroke-width="1.15" stroke-linejoin="round"/>
<polygon points="354.1,310.9 350.8,316.5 357.3,316.5" fill="none" stroke="#f3782c" stroke-width="1.15" stroke-linejoin="round"/>
<polygon points="354.1,312.2 350.8,317.8 357.3,317.8" fill="none" stroke="#f3782c" stroke-width="1.15" stroke-linejoin="round"/>
<polygon points="355.9,312.5 352.6,318.1 359.1,318.1" fill="none" stroke="#f3782c" stroke-width="1.15" stroke-linejoin="round"/>
<polygon points="357.4,311.3 354.2,316.9 360.7,316.9" fill="none" stroke="#f3782c" stroke-width="1.15" stroke-linejoin="round"/>
<polygon points="358.5,312.0 355.2,317.6 361.7,317.6" fill="none" stroke="#f3782c" stroke-width="1.15" stroke-linejoin="round"/>
<polygon points="359.9,310.7 356.6,316.3 363.1,316.3" fill="none" stroke="#f3782c" stroke-width="1.15" stroke-linejoin="round"/>
<polygon points="362.3,315.3 359.1,320.9 365.6,320.9" fill="none" stroke="#f3782c" stroke-width="1.15" stroke-linejoin="round"/>
<polygon points="364.2,315.0 360.9,320.6 367.4,320.6" fill="none" stroke="#f3782c" stroke-width="1.15" stroke-linejoin="round"/>
<polygon points="365.0,315.6 361.7,321.2 368.2,321.2" fill="none" stroke="#f3782c" stroke-width="1.15" stroke-linejoin="round"/>
<polygon points="365.8,315.3 362.6,320.9 369.1,320.9" fill="none" stroke="#f3782c" stroke-width="1.15" stroke-linejoin="round"/>
<polygon points="368.0,312.4 364.7,318.0 371.2,318.0" fill="none" stroke="#f3782c" stroke-width="1.15" stroke-linejoin="round"/>
<polygon points="369.1,314.5 365.9,320.2 372.4,320.2" fill="none" stroke="#f3782c" stroke-width="1.15" stroke-linejoin="round"/>
<polygon points="370.8,314.2 367.6,319.8 374.1,319.8" fill="none" stroke="#f3782c" stroke-width="1.15" stroke-linejoin="round"/>
<polygon points="373.1,313.8 369.8,319.4 376.3,319.4" fill="none" stroke="#f3782c" stroke-width="1.15" stroke-linejoin="round"/>
<polygon points="373.8,314.4 370.6,320.0 377.1,320.0" fill="none" stroke="#f3782c" stroke-width="1.15" stroke-linejoin="round"/>
<polygon points="375.6,312.8 372.3,318.4 378.8,318.4" fill="none" stroke="#f3782c" stroke-width="1.15" stroke-linejoin="round"/>
<polygon points="377.1,313.5 373.9,319.1 380.4,319.1" fill="none" stroke="#f3782c" stroke-width="1.15" stroke-linejoin="round"/>
<polygon points="378.5,315.1 375.2,320.7 381.7,320.7" fill="none" stroke="#f3782c" stroke-width="1.15" stroke-linejoin="round"/>
<polygon points="381.7,313.3 378.4,318.9 384.9,318.9" fill="none" stroke="#f3782c" stroke-width="1.15" stroke-linejoin="round"/>
<polygon points="382.8,316.2 379.6,321.8 386.1,321.8" fill="none" stroke="#f3782c" stroke-width="1.15" stroke-linejoin="round"/>
<polygon points="383.1,311.0 379.9,316.7 386.4,316.7" fill="none" stroke="#f3782c" stroke-width="1.15" stroke-linejoin="round"/>
<polygon points="386.0,314.7 382.8,320.3 389.3,320.3" fill="none" stroke="#f3782c" stroke-width="1.15" stroke-linejoin="round"/>
<polygon points="387.2,310.0 383.9,315.7 390.4,315.7" fill="none" stroke="#f3782c" stroke-width="1.15" stroke-linejoin="round"/>
<polygon points="388.3,313.7 385.0,319.3 391.5,319.3" fill="none" stroke="#f3782c" stroke-width="1.15" stroke-linejoin="round"/>
<polygon points="390.6,312.6 387.3,318.3 393.8,318.3" fill="none" stroke="#f3782c" stroke-width="1.15" stroke-linejoin="round"/>
<polygon points="390.8,312.3 387.6,318.0 394.1,318.0" fill="none" stroke="#f3782c" stroke-width="1.15" stroke-linejoin="round"/>
<polygon points="392.6,310.9 389.4,316.6 395.9,316.6" fill="none" stroke="#f3782c" stroke-width="1.15" stroke-linejoin="round"/>
<polygon points="393.7,311.9 390.5,317.5 397.0,317.5" fill="none" stroke="#f3782c" stroke-width="1.15" stroke-linejoin="round"/>
<polygon points="396.0,309.8 392.8,315.4 399.3,315.4" fill="none" stroke="#f3782c" stroke-width="1.15" stroke-linejoin="round"/>
<polygon points="396.8,308.6 393.6,314.2 400.1,314.2" fill="none" stroke="#f3782c" stroke-width="1.15" stroke-linejoin="round"/>
<polygon points="399.0,307.9 395.7,313.5 402.2,313.5" fill="none" stroke="#f3782c" stroke-width="1.15" stroke-linejoin="round"/>
<polygon points="400.1,308.1 396.8,313.8 403.3,313.8" fill="none" stroke="#f3782c" stroke-width="1.15" stroke-linejoin="round"/>
<polygon points="401.5,305.0 398.3,310.6 404.8,310.6" fill="none" stroke="#f3782c" stroke-width="1.15" stroke-linejoin="round"/>
<polygon points="402.7,306.7 399.5,312.4 406.0,312.4" fill="none" stroke="#f3782c" stroke-width="1.15" stroke-linejoin="round"/>
<polygon points="404.1,303.5 400.9,309.1 407.4,309.1" fill="none" stroke="#f3782c" stroke-width="1.15" stroke-linejoin="round"/>
<polygon points="405.6,305.4 402.3,311.1 408.8,311.1" fill="none" stroke="#f3782c" stroke-width="1.15" stroke-linejoin="round"/>
<polygon points="408.0,304.3 404.7,310.0 411.2,310.0" fill="none" stroke="#f3782c" stroke-width="1.15" stroke-linejoin="round"/>
<polygon points="408.5,303.2 405.3,308.8 411.8,308.8" fill="none" stroke="#f3782c" stroke-width="1.15" stroke-linejoin="round"/>
<polygon points="410.6,300.5 407.3,306.2 413.8,306.2" fill="none" stroke="#f3782c" stroke-width="1.15" stroke-linejoin="round"/>
<polygon points="411.5,305.4 408.2,311.0 414.7,311.0" fill="none" stroke="#f3782c" stroke-width="1.15" stroke-linejoin="round"/>
<polygon points="413.2,300.6 409.9,306.3 416.4,306.3" fill="none" stroke="#f3782c" stroke-width="1.15" stroke-linejoin="round"/>
<polygon points="414.9,301.8 411.7,307.4 418.2,307.4" fill="none" stroke="#f3782c" stroke-width="1.15" stroke-linejoin="round"/>
<polygon points="416.0,300.4 412.8,306.0 419.3,306.0" fill="none" stroke="#f3782c" stroke-width="1.15" stroke-linejoin="round"/>
<polygon points="418.0,301.8 414.7,307.5 421.2,307.5" fill="none" stroke="#f3782c" stroke-width="1.15" stroke-linejoin="round"/>
<polygon points="418.7,298.1 415.5,303.7 422.0,303.7" fill="none" stroke="#f3782c" stroke-width="1.15" stroke-linejoin="round"/>
<polygon points="421.0,301.1 417.8,306.8 424.3,306.8" fill="none" stroke="#f3782c" stroke-width="1.15" stroke-linejoin="round"/>
<polygon points="422.5,297.4 419.2,303.0 425.7,303.0" fill="none" stroke="#f3782c" stroke-width="1.15" stroke-linejoin="round"/>
<polygon points="424.2,295.6 420.9,301.2 427.4,301.2" fill="none" stroke="#f3782c" stroke-width="1.15" stroke-linejoin="round"/>
<polygon points="424.5,296.1 421.2,301.7 427.7,301.7" fill="none" stroke="#f3782c" stroke-width="1.15" stroke-linejoin="round"/>
<polygon points="427.5,296.8 424.2,302.5 430.7,302.5" fill="none" stroke="#f3782c" stroke-width="1.15" stroke-linejoin="round"/>
<polygon points="427.8,295.9 424.5,301.5 431.0,301.5" fill="none" stroke="#f3782c" stroke-width="1.15" stroke-linejoin="round"/>
<polygon points="430.4,292.9 427.1,298.5 433.6,298.5" fill="none" stroke="#f3782c" stroke-width="1.15" stroke-linejoin="round"/>
<polygon points="431.5,293.0 428.2,298.7 434.7,298.7" fill="none" stroke="#f3782c" stroke-width="1.15" stroke-linejoin="round"/>
<polygon points="432.4,292.3 429.1,297.9 435.6,297.9" fill="none" stroke="#f3782c" stroke-width="1.15" stroke-linejoin="round"/>
<polygon points="433.9,292.3 430.6,298.0 437.1,298.0" fill="none" stroke="#f3782c" stroke-width="1.15" stroke-linejoin="round"/>
<polygon points="435.2,292.3 431.9,297.9 438.4,297.9" fill="none" stroke="#f3782c" stroke-width="1.15" stroke-linejoin="round"/>
<polygon points="436.8,294.2 433.6,299.8 440.1,299.8" fill="none" stroke="#f3782c" stroke-width="1.15" stroke-linejoin="round"/>
<polygon points="439.3,289.2 436.0,294.9 442.5,294.9" fill="none" stroke="#f3782c" stroke-width="1.15" stroke-linejoin="round"/>
<polygon points="441.1,289.9 437.9,295.5 444.4,295.5" fill="none" stroke="#f3782c" stroke-width="1.15" stroke-linejoin="round"/>
<polygon points="442.1,291.5 438.9,297.1 445.4,297.1" fill="none" stroke="#f3782c" stroke-width="1.15" stroke-linejoin="round"/>
<polygon points="443.3,289.3 440.1,294.9 446.6,294.9" fill="none" stroke="#f3782c" stroke-width="1.15" stroke-linejoin="round"/>
<polygon points="445.0,287.8 441.7,293.4 448.2,293.4" fill="none" stroke="#f3782c" stroke-width="1.15" stroke-linejoin="round"/>
<polygon points="447.2,286.9 443.9,292.6 450.4,292.6" fill="none" stroke="#f3782c" stroke-width="1.15" stroke-linejoin="round"/>
<polygon points="448.5,286.9 445.3,292.5 451.8,292.5" fill="none" stroke="#f3782c" stroke-width="1.15" stroke-linejoin="round"/>
<polygon points="449.0,287.1 445.8,292.8 452.3,292.8" fill="none" stroke="#f3782c" stroke-width="1.15" stroke-linejoin="round"/>
<polygon points="450.0,284.8 446.7,290.5 453.2,290.5" fill="none" stroke="#f3782c" stroke-width="1.15" stroke-linejoin="round"/>
<polygon points="451.9,285.9 448.7,291.6 455.2,291.6" fill="none" stroke="#f3782c" stroke-width="1.15" stroke-linejoin="round"/>
<polygon points="454.2,288.4 451.0,294.0 457.5,294.0" fill="none" stroke="#f3782c" stroke-width="1.15" stroke-linejoin="round"/>
<polygon points="454.1,284.8 450.9,290.5 457.4,290.5" fill="none" stroke="#f3782c" stroke-width="1.15" stroke-linejoin="round"/>
<polygon points="455.6,285.5 452.3,291.2 458.8,291.2" fill="none" stroke="#f3782c" stroke-width="1.15" stroke-linejoin="round"/>
<polygon points="457.2,285.1 453.9,290.7 460.4,290.7" fill="none" stroke="#f3782c" stroke-width="1.15" stroke-linejoin="round"/>
<polygon points="458.8,279.5 455.6,285.1 462.1,285.1" fill="none" stroke="#f3782c" stroke-width="1.15" stroke-linejoin="round"/>
<polygon points="459.1,279.2 455.8,284.8 462.3,284.8" fill="none" stroke="#f3782c" stroke-width="1.15" stroke-linejoin="round"/>
<polygon points="461.8,277.5 458.6,283.1 465.1,283.1" fill="none" stroke="#f3782c" stroke-width="1.15" stroke-linejoin="round"/>
<polygon points="462.3,277.8 459.1,283.4 465.6,283.4" fill="none" stroke="#f3782c" stroke-width="1.15" stroke-linejoin="round"/>
<polygon points="460.9,268.6 457.6,274.3 464.1,274.3" fill="none" stroke="#f3782c" stroke-width="1.15" stroke-linejoin="round"/>
<polygon points="462.0,272.6 458.8,278.3 465.2,278.3" fill="none" stroke="#f3782c" stroke-width="1.15" stroke-linejoin="round"/>
<polygon points="458.0,275.6 454.8,281.3 461.2,281.3" fill="none" stroke="#f3782c" stroke-width="1.15" stroke-linejoin="round"/>
<circle cx="341.2" cy="329.8" r="2.1" fill="none" stroke="#c46ad2" stroke-width="1.1"/>
<circle cx="341.8" cy="320.9" r="2.1" fill="none" stroke="#c46ad2" stroke-width="1.1"/>
<circle cx="343.8" cy="310.7" r="2.1" fill="none" stroke="#c46ad2" stroke-width="1.1"/>
<circle cx="345.1" cy="285.5" r="2.1" fill="none" stroke="#c46ad2" stroke-width="1.1"/>
<circle cx="346.2" cy="280.2" r="2.1" fill="none" stroke="#c46ad2" stroke-width="1.1"/>
<circle cx="346.3" cy="280.9" r="2.1" fill="none" stroke="#c46ad2" stroke-width="1.1"/>
<circle cx="347.2" cy="275.4" r="2.1" fill="none" stroke="#c46ad2" stroke-width="1.1"/>
<circle cx="347.5" cy="276.0" r="2.1" fill="none" stroke="#c46ad2" stroke-width="1.1"/>
<circle cx="350.6" cy="274.1" r="2.1" fill="none" stroke="#c46ad2" stroke-width="1.1"/>
<circle cx="351.9" cy="273.5" r="2.1" fill="none" stroke="#c46ad2" stroke-width="1.1"/>
<circle cx="354.3" cy="276.6" r="2.1" fill="none" stroke="#c46ad2" stroke-width="1.1"/>
<circle cx="355.4" cy="276.3" r="2.1" fill="none" stroke="#c46ad2" stroke-width="1.1"/>
<circle cx="356.7" cy="274.7" r="2.1" fill="none" stroke="#c46ad2" stroke-width="1.1"/>
<circle cx="360.2" cy="270.2" r="2.1" fill="none" stroke="#c46ad2" stroke-width="1.1"/>
<circle cx="361.9" cy="272.6" r="2.1" fill="none" stroke="#c46ad2" stroke-width="1.1"/>
<circle cx="364.3" cy="270.2" r="2.1" fill="none" stroke="#c46ad2" stroke-width="1.1"/>
<circle cx="365.5" cy="274.4" r="2.1" fill="none" stroke="#c46ad2" stroke-width="1.1"/>
<circle cx="367.7" cy="270.8" r="2.1" fill="none" stroke="#c46ad2" stroke-width="1.1"/>
<circle cx="368.7" cy="274.8" r="2.1" fill="none" stroke="#c46ad2" stroke-width="1.1"/>
<circle cx="371.4" cy="275.3" r="2.1" fill="none" stroke="#c46ad2" stroke-width="1.1"/>
<circle cx="372.8" cy="274.2" r="2.1" fill="none" stroke="#c46ad2" stroke-width="1.1"/>
<circle cx="376.1" cy="274.9" r="2.1" fill="none" stroke="#c46ad2" stroke-width="1.1"/>
<circle cx="376.5" cy="271.5" r="2.1" fill="none" stroke="#c46ad2" stroke-width="1.1"/>
<circle cx="378.6" cy="273.9" r="2.1" fill="none" stroke="#c46ad2" stroke-width="1.1"/>
<circle cx="381.2" cy="275.2" r="2.1" fill="none" stroke="#c46ad2" stroke-width="1.1"/>
<circle cx="383.2" cy="274.0" r="2.1" fill="none" stroke="#c46ad2" stroke-width="1.1"/>
<circle cx="386.2" cy="270.6" r="2.1" fill="none" stroke="#c46ad2" stroke-width="1.1"/>
<circle cx="387.6" cy="275.1" r="2.1" fill="none" stroke="#c46ad2" stroke-width="1.1"/>
<circle cx="389.5" cy="271.2" r="2.1" fill="none" stroke="#c46ad2" stroke-width="1.1"/>
<circle cx="391.0" cy="273.9" r="2.1" fill="none" stroke="#c46ad2" stroke-width="1.1"/>
<circle cx="392.9" cy="272.7" r="2.1" fill="none" stroke="#c46ad2" stroke-width="1.1"/>
<circle cx="395.6" cy="272.4" r="2.1" fill="none" stroke="#c46ad2" stroke-width="1.1"/>
<circle cx="396.7" cy="273.0" r="2.1" fill="none" stroke="#c46ad2" stroke-width="1.1"/>
<circle cx="400.3" cy="270.8" r="2.1" fill="none" stroke="#c46ad2" stroke-width="1.1"/>
<circle cx="401.1" cy="274.6" r="2.1" fill="none" stroke="#c46ad2" stroke-width="1.1"/>
<circle cx="403.6" cy="270.6" r="2.1" fill="none" stroke="#c46ad2" stroke-width="1.1"/>
<circle cx="404.5" cy="273.7" r="2.1" fill="none" stroke="#c46ad2" stroke-width="1.1"/>
<circle cx="407.2" cy="272.0" r="2.1" fill="none" stroke="#c46ad2" stroke-width="1.1"/>
<circle cx="409.0" cy="273.1" r="2.1" fill="none" stroke="#c46ad2" stroke-width="1.1"/>
<circle cx="411.9" cy="271.1" r="2.1" fill="none" stroke="#c46ad2" stroke-width="1.1"/>
<circle cx="412.6" cy="275.5" r="2.1" fill="none" stroke="#c46ad2" stroke-width="1.1"/>
<circle cx="416.2" cy="269.4" r="2.1" fill="none" stroke="#c46ad2" stroke-width="1.1"/>
<circle cx="417.6" cy="273.7" r="2.1" fill="none" stroke="#c46ad2" stroke-width="1.1"/>
<circle cx="419.3" cy="274.0" r="2.1" fill="none" stroke="#c46ad2" stroke-width="1.1"/>
<circle cx="422.3" cy="273.1" r="2.1" fill="none" stroke="#c46ad2" stroke-width="1.1"/>
<circle cx="423.2" cy="270.5" r="2.1" fill="none" stroke="#c46ad2" stroke-width="1.1"/>
<circle cx="425.0" cy="270.2" r="2.1" fill="none" stroke="#c46ad2" stroke-width="1.1"/>
<circle cx="426.7" cy="270.5" r="2.1" fill="none" stroke="#c46ad2" stroke-width="1.1"/>
<circle cx="430.1" cy="272.5" r="2.1" fill="none" stroke="#c46ad2" stroke-width="1.1"/>
<circle cx="432.0" cy="274.9" r="2.1" fill="none" stroke="#c46ad2" stroke-width="1.1"/>
<circle cx="434.0" cy="269.3" r="2.1" fill="none" stroke="#c46ad2" stroke-width="1.1"/>
<circle cx="436.3" cy="269.5" r="2.1" fill="none" stroke="#c46ad2" stroke-width="1.1"/>
<circle cx="438.0" cy="274.2" r="2.1" fill="none" stroke="#c46ad2" stroke-width="1.1"/>
<circle cx="439.7" cy="271.4" r="2.1" fill="none" stroke="#c46ad2" stroke-width="1.1"/>
<circle cx="440.6" cy="269.3" r="2.1" fill="none" stroke="#c46ad2" stroke-width="1.1"/>
<circle cx="443.7" cy="270.3" r="2.1" fill="none" stroke="#c46ad2" stroke-width="1.1"/>
<circle cx="445.5" cy="270.5" r="2.1" fill="none" stroke="#c46ad2" stroke-width="1.1"/>
<circle cx="446.8" cy="270.7" r="2.1" fill="none" stroke="#c46ad2" stroke-width="1.1"/>
<circle cx="449.9" cy="271.9" r="2.1" fill="none" stroke="#c46ad2" stroke-width="1.1"/>
<circle cx="451.2" cy="271.9" r="2.1" fill="none" stroke="#c46ad2" stroke-width="1.1"/>
<circle cx="453.5" cy="272.1" r="2.1" fill="none" stroke="#c46ad2" stroke-width="1.1"/>
<circle cx="455.3" cy="275.0" r="2.1" fill="none" stroke="#c46ad2" stroke-width="1.1"/>
<circle cx="457.9" cy="270.2" r="2.1" fill="none" stroke="#c46ad2" stroke-width="1.1"/>
<circle cx="459.1" cy="270.0" r="2.1" fill="none" stroke="#c46ad2" stroke-width="1.1"/>
<circle cx="461.2" cy="269.0" r="2.1" fill="none" stroke="#c46ad2" stroke-width="1.1"/>
<circle cx="463.9" cy="272.4" r="2.1" fill="none" stroke="#c46ad2" stroke-width="1.1"/>
<polygon points="434.1,297.5 437.4,300.8 434.1,304.1 430.8,300.8" fill="#000"/>
<text x="439.6" y="305.0" font-size="12" font-weight="bold" fill="#111" stroke="#111" stroke-width="0.3">&#963; (MPa)</text>
<circle cx="432.1" cy="314.5" r="2.2" fill="none" stroke="#c46ad2" stroke-width="1.1"/>
<text x="438.0" y="318.8" font-size="12" font-weight="bold" fill="#111" stroke="#111" stroke-width="0.3"><tspan font-style="italic" font-size="13.2">L</tspan><tspan font-size="8.4" dy="1.6" font-weight="normal">001</tspan><tspan dy="-1.6">(nm)</tspan></text>
<polygon points="434.1,327.3 431.3,332.1 436.9,332.1" fill="none" stroke="#f3782c" stroke-width="1.15" stroke-linejoin="round"/>
<text x="441.3" y="334.0" font-size="12" font-weight="bold" fill="#111" stroke="#111" stroke-width="0.3"><tspan font-weight="normal" font-size="12.6">&#949;</tspan><tspan font-size="8.4" dy="1.6" font-weight="normal">001</tspan></text>
<text x="3.2" y="386.1" font-size="21" fill="#111" stroke="#111" stroke-width="0.3" font-weight="bold" font-style="normal" text-anchor="start" >(e)</text>
<text x="48.7" y="376.0" font-size="10" fill="#333" stroke="#333" stroke-width="0" font-weight="normal" font-style="italic" text-anchor="start" >&#949;</text>
<text x="53.3" y="377.8" font-size="7.0" fill="#333" stroke="#333" stroke-width="0" font-weight="bold" font-style="normal" text-anchor="start" >Y1</text>
<text x="74.7" y="376.0" font-size="10" fill="#333" stroke="#333" stroke-width="0" font-weight="normal" font-style="italic" text-anchor="start" >&#949;</text>
<text x="79.3" y="377.8" font-size="7.0" fill="#333" stroke="#333" stroke-width="0" font-weight="bold" font-style="normal" text-anchor="start" >H</text>
<text x="92.2" y="376.0" font-size="10" fill="#333" stroke="#333" stroke-width="0" font-weight="normal" font-style="italic" text-anchor="start" >&#949;</text>
<text x="96.8" y="377.8" font-size="7.0" fill="#333" stroke="#333" stroke-width="0" font-weight="bold" font-style="normal" text-anchor="start" >Y2</text>
<line x1="58.0" y1="378.7" x2="58.0" y2="519.0" stroke="#c64cd4" stroke-width="1.5" stroke-dasharray="5.1,3.3"/>
<line x1="78.9" y1="378.7" x2="78.9" y2="519.0" stroke="#c64cd4" stroke-width="1.5" stroke-dasharray="5.1,3.3"/>
<line x1="98.7" y1="378.7" x2="98.7" y2="519.0" stroke="#c64cd4" stroke-width="1.5" stroke-dasharray="5.1,3.3"/>
<text transform="translate(17.0,445.5) rotate(-90) scale(1.22,1)" font-size="11.2" font-weight="bold" fill="#222" stroke="#222" stroke-width="0.3" text-anchor="middle"><tspan font-weight="bold" font-size="14">&#963;</tspan> (MPa)</text>
<line x1="38.5" y1="385.1" x2="38.5" y2="519.5" stroke="#4a4a4a" stroke-width="1.4"/>
<line x1="35.5" y1="515.6" x2="38.5" y2="515.6" stroke="#4a4a4a" stroke-width="1.1"/>
<text x="35.0" y="518.6" font-size="11.5" fill="#555555" stroke="#555555" stroke-width="0.3" font-weight="bold" font-style="normal" text-anchor="end" >0</text>
<line x1="35.5" y1="488.9" x2="38.5" y2="488.9" stroke="#4a4a4a" stroke-width="1.1"/>
<text x="35.0" y="491.9" font-size="11.5" fill="#555555" stroke="#555555" stroke-width="0.3" font-weight="bold" font-style="normal" text-anchor="end" >10</text>
<line x1="35.5" y1="461.5" x2="38.5" y2="461.5" stroke="#4a4a4a" stroke-width="1.1"/>
<text x="35.0" y="464.5" font-size="11.5" fill="#555555" stroke="#555555" stroke-width="0.3" font-weight="bold" font-style="normal" text-anchor="end" >20</text>
<line x1="35.5" y1="434.2" x2="38.5" y2="434.2" stroke="#4a4a4a" stroke-width="1.1"/>
<text x="35.0" y="437.2" font-size="11.5" fill="#555555" stroke="#555555" stroke-width="0.3" font-weight="bold" font-style="normal" text-anchor="end" >30</text>
<line x1="35.5" y1="406.7" x2="38.5" y2="406.7" stroke="#4a4a4a" stroke-width="1.1"/>
<text x="35.0" y="409.7" font-size="11.5" fill="#555555" stroke="#555555" stroke-width="0.3" font-weight="bold" font-style="normal" text-anchor="end" >40</text>
<line x1="36.5" y1="502.2" x2="38.5" y2="502.2" stroke="#4a4a4a" stroke-width="1.0"/>
<line x1="36.5" y1="475.2" x2="38.5" y2="475.2" stroke="#4a4a4a" stroke-width="1.0"/>
<line x1="36.5" y1="447.8" x2="38.5" y2="447.8" stroke="#4a4a4a" stroke-width="1.0"/>
<line x1="36.5" y1="420.4" x2="38.5" y2="420.4" stroke="#4a4a4a" stroke-width="1.0"/>
<line x1="36.5" y1="393.0" x2="38.5" y2="393.0" stroke="#4a4a4a" stroke-width="1.0"/>
<line x1="38.5" y1="519.5" x2="205.2" y2="519.5" stroke="#1e1e1e" stroke-width="1.6"/>
<line x1="47.0" y1="519.5" x2="47.0" y2="522.5" stroke="#4a4a4a" stroke-width="1.1"/>
<text x="47.0" y="533.0" font-size="11.5" fill="#222222" stroke="#222222" stroke-width="0.3" font-weight="bold" font-style="normal" text-anchor="middle" >0.0</text>
<line x1="91.5" y1="519.5" x2="91.5" y2="522.5" stroke="#4a4a4a" stroke-width="1.1"/>
<text x="91.5" y="533.0" font-size="11.5" fill="#222222" stroke="#222222" stroke-width="0.3" font-weight="bold" font-style="normal" text-anchor="middle" >0.5</text>
<line x1="137.3" y1="519.5" x2="137.3" y2="522.5" stroke="#4a4a4a" stroke-width="1.1"/>
<text x="137.3" y="533.0" font-size="11.5" fill="#222222" stroke="#222222" stroke-width="0.3" font-weight="bold" font-style="normal" text-anchor="middle" >1.0</text>
<line x1="182.8" y1="519.5" x2="182.8" y2="522.5" stroke="#4a4a4a" stroke-width="1.1"/>
<text x="182.8" y="533.0" font-size="11.5" fill="#222222" stroke="#222222" stroke-width="0.3" font-weight="bold" font-style="normal" text-anchor="middle" >1.5</text>
<line x1="69.3" y1="519.5" x2="69.3" y2="521.5" stroke="#4a4a4a" stroke-width="1.0"/>
<line x1="114.4" y1="519.5" x2="114.4" y2="521.5" stroke="#4a4a4a" stroke-width="1.0"/>
<line x1="160.0" y1="519.5" x2="160.0" y2="521.5" stroke="#4a4a4a" stroke-width="1.0"/>
<line x1="205.2" y1="384.3" x2="205.2" y2="519.5" stroke="#3f934a" stroke-width="1.7"/>
<line x1="205.2" y1="385.8" x2="208.2" y2="385.8" stroke="#3f934a" stroke-width="1.1"/>
<text x="207.7" y="390.0" font-size="12.5" fill="#3f934a" stroke="#3f934a" stroke-width="0.3" font-weight="bold" font-style="normal" text-anchor="start" >0.02</text>
<line x1="205.2" y1="418.2" x2="208.2" y2="418.2" stroke="#3f934a" stroke-width="1.1"/>
<text x="207.7" y="422.4" font-size="12.5" fill="#3f934a" stroke="#3f934a" stroke-width="0.3" font-weight="bold" font-style="normal" text-anchor="start" >0.01</text>
<line x1="205.2" y1="452.0" x2="208.2" y2="452.0" stroke="#3f934a" stroke-width="1.1"/>
<text x="207.7" y="456.2" font-size="12.5" fill="#3f934a" stroke="#3f934a" stroke-width="0.3" font-weight="bold" font-style="normal" text-anchor="start" >0.00</text>
<line x1="205.2" y1="485.6" x2="208.2" y2="485.6" stroke="#3f934a" stroke-width="1.1"/>
<text x="207.7" y="489.8" font-size="12.5" fill="#3f934a" stroke="#3f934a" stroke-width="0.3" font-weight="bold" font-style="normal" text-anchor="start" >-0.01</text>
<line x1="205.2" y1="519.2" x2="208.2" y2="519.2" stroke="#3f934a" stroke-width="1.1"/>
<text x="207.7" y="523.4" font-size="12.5" fill="#3f934a" stroke="#3f934a" stroke-width="0.3" font-weight="bold" font-style="normal" text-anchor="start" >-0.02</text>
<line x1="240.0" y1="385.8" x2="240.0" y2="520.5" stroke="#5a47bc" stroke-width="1.7"/>
<line x1="240.0" y1="412.4" x2="243.0" y2="412.4" stroke="#5a47bc" stroke-width="1.1"/>
<text x="240.8" y="416.6" font-size="12.5" fill="#5a47bc" stroke="#5a47bc" stroke-width="0.3" font-weight="bold" font-style="normal" text-anchor="start" >15</text>
<line x1="240.0" y1="457.0" x2="243.0" y2="457.0" stroke="#5a47bc" stroke-width="1.1"/>
<text x="240.8" y="461.2" font-size="12.5" fill="#5a47bc" stroke="#5a47bc" stroke-width="0.3" font-weight="bold" font-style="normal" text-anchor="start" >10</text>
<line x1="240.0" y1="501.5" x2="243.0" y2="501.5" stroke="#5a47bc" stroke-width="1.1"/>
<text x="240.8" y="505.7" font-size="12.5" fill="#5a47bc" stroke="#5a47bc" stroke-width="0.3" font-weight="bold" font-style="normal" text-anchor="start" >5</text>
<line x1="240.0" y1="434.7" x2="242.0" y2="434.7" stroke="#5a47bc" stroke-width="1.0"/>
<line x1="240.0" y1="479.2" x2="242.0" y2="479.2" stroke="#5a47bc" stroke-width="1.0"/>
<text x="200.6" y="372.3" font-size="12.5" font-weight="bold" font-style="italic" fill="#3f934a">&#949;<tspan font-size="7.5" dy="1.4">200</tspan></text>
<text x="220.6" y="372.3" font-size="11.5" font-weight="bold" font-style="italic" fill="#5a47bc">L<tspan font-size="7.5" dy="1.4">200</tspan><tspan dy="-1.4">/nm</tspan></text>
<text x="106.9" y="396.2" font-size="16.5" fill="#111" stroke="#111" stroke-width="0.3" font-weight="bold" font-style="normal" text-anchor="start" >PE- 87</text>
<text x="117.8" y="545.0" font-size="24" fill="#222" stroke="#222" stroke-width="0.18" font-weight="normal" font-style="italic" text-anchor="start" >&#949;</text>
<polyline points="47.1,516.2 47.2,515.9 47.2,515.6 47.3,515.2 47.4,514.8 47.5,514.3 47.7,513.8 47.8,513.2 48.0,512.5 48.1,511.8 48.3,511.1 48.5,510.3 48.7,509.3 49.0,508.3 49.2,507.1 49.5,506.0 49.8,504.9 50.1,503.7 50.4,502.7 50.6,501.7 50.9,500.9 51.2,500.2 51.4,499.5 51.7,499.0 51.9,498.4 52.1,497.9 52.4,497.5 52.6,497.1 52.9,496.7 53.1,496.2 53.4,495.8 53.6,495.4 53.9,495.0 54.1,494.6 54.3,494.2 54.5,493.8 54.8,493.5 55.0,493.1 55.3,492.7 55.6,492.4 56.0,492.0 56.4,491.6 56.9,491.2 57.3,490.9 57.9,490.5 58.4,490.1 58.9,489.7 59.5,489.3 60.0,489.0 60.6,488.6 61.1,488.2 61.6,487.8 62.1,487.5 62.6,487.1 63.0,486.8 63.5,486.5 64.0,486.1 64.5,485.7 65.0,485.3 65.6,484.9 66.2,484.4 66.9,483.9 67.6,483.3 68.3,482.7 69.1,482.1 69.8,481.4 70.6,480.8 71.4,480.1 72.2,479.4 73.0,478.7 73.8,478.0 74.6,477.3 75.4,476.5 76.2,475.7 77.0,474.9 77.8,474.1 78.6,473.3 79.4,472.5 80.1,471.7 80.8,471.0 81.4,470.4 81.9,469.8 82.3,469.3 82.7,468.9 83.0,468.4 83.3,468.0 83.6,467.6 83.9,467.2 84.2,466.8 84.6,466.4 85.0,465.9 85.5,465.4 86.0,464.9 86.5,464.3 87.1,463.8 87.6,463.2 88.2,462.6 88.8,462.1 89.4,461.5 89.9,461.0 90.5,460.4 91.0,459.9 91.6,459.3 92.1,458.7 92.7,458.2 93.2,457.6 93.7,457.1 94.3,456.5 94.8,456.0 95.4,455.5 95.9,455.0 96.4,454.5 97.0,454.0 97.5,453.6 98.1,453.1 98.6,452.7 99.2,452.3 99.7,451.8 100.3,451.4 100.8,451.0 101.4,450.6 102.0,450.2 102.5,449.8 103.1,449.4 103.6,449.0 104.2,448.7 104.7,448.3 105.3,447.9 105.8,447.6 106.4,447.2 106.9,446.8 107.4,446.4 108.0,446.0 108.5,445.7 109.1,445.3 109.6,444.9 110.1,444.6 110.7,444.2 111.2,443.8 111.8,443.4 112.3,443.0 112.8,442.6 113.4,442.2 113.9,441.7 114.5,441.3 115.0,440.8 115.6,440.4 116.1,439.9 116.7,439.5 117.2,439.0 117.8,438.6 118.3,438.2 118.9,437.8 119.4,437.4 119.9,437.0 120.5,436.6 121.0,436.1 121.6,435.7 122.1,435.2 122.7,434.7 123.3,434.2 123.9,433.6 124.6,433.0 125.2,432.3 125.9,431.6 126.6,430.9 127.3,430.2 128.0,429.4 128.7,428.7 129.3,428.1 130.0,427.4 130.7,426.8 131.3,426.1 131.9,425.5 132.6,424.9 133.2,424.3 133.9,423.7 134.5,423.2 135.1,422.6 135.8,422.1 136.4,421.6 137.0,421.1 137.7,420.7 138.3,420.4 138.9,420.0 139.6,419.7 140.2,419.3 140.8,419.0 141.4,418.6 142.1,418.2 142.7,417.8 143.3,417.3 144.0,416.8 144.6,416.3 145.3,415.7 145.9,415.2 146.5,414.6 147.2,414.1 147.8,413.6 148.5,413.1 149.1,412.7 149.7,412.3 150.4,412.0 151.0,411.8 151.6,411.5 152.2,411.3 152.9,411.1 153.5,410.9 154.1,410.7 154.8,410.5 155.4,410.2 156.0,409.9 156.7,409.6 157.3,409.3 158.0,409.0 158.6,408.6 159.2,408.3 159.9,408.0 160.5,407.7 161.2,407.3 161.8,407.0 162.4,406.7 163.1,406.3 163.8,406.0 164.4,405.6 165.1,405.3 165.7,404.9 166.4,404.6 167.0,404.3 167.6,404.0 168.2,403.8 168.8,403.6 169.3,403.4 169.9,403.2 170.4,403.1 170.9,403.0 171.4,402.9 171.9,402.8 172.4,402.7 172.8,402.6 173.3,402.5 173.7,402.4 174.2,402.3 174.7,402.2 175.1,402.2 175.5,402.1 175.9,402.1 176.3,402.0 176.6,402.0 176.9,401.9 177.1,401.9" fill="none" stroke="#3c3c3c" stroke-width="3.6" stroke-linejoin="round" stroke-linecap="round"/>
<polygon points="48.4,449.4 45.1,455.0 51.6,455.0" fill="none" stroke="#3f934a" stroke-width="1.15" stroke-linejoin="round"/>
<polygon points="51.8,447.7 48.6,453.4 55.1,453.4" fill="none" stroke="#3f934a" stroke-width="1.15" stroke-linejoin="round"/>
<polygon points="55.4,446.9 52.1,452.5 58.6,452.5" fill="none" stroke="#3f934a" stroke-width="1.15" stroke-linejoin="round"/>
<polygon points="58.9,444.8 55.7,450.5 62.2,450.5" fill="none" stroke="#3f934a" stroke-width="1.15" stroke-linejoin="round"/>
<polygon points="62.6,444.1 59.4,449.8 65.9,449.8" fill="none" stroke="#3f934a" stroke-width="1.15" stroke-linejoin="round"/>
<polygon points="66.4,443.8 63.2,449.4 69.7,449.4" fill="none" stroke="#3f934a" stroke-width="1.15" stroke-linejoin="round"/>
<polygon points="70.2,444.0 66.9,449.6 73.4,449.6" fill="none" stroke="#3f934a" stroke-width="1.15" stroke-linejoin="round"/>
<polygon points="74.0,444.6 70.8,450.2 77.3,450.2" fill="none" stroke="#3f934a" stroke-width="1.15" stroke-linejoin="round"/>
<polygon points="77.8,444.4 74.5,450.1 81.0,450.1" fill="none" stroke="#3f934a" stroke-width="1.15" stroke-linejoin="round"/>
<polygon points="81.5,445.4 78.3,451.0 84.8,451.0" fill="none" stroke="#3f934a" stroke-width="1.15" stroke-linejoin="round"/>
<polygon points="85.1,446.9 81.9,452.5 88.4,452.5" fill="none" stroke="#3f934a" stroke-width="1.15" stroke-linejoin="round"/>
<polygon points="89.0,446.5 85.8,452.1 92.3,452.1" fill="none" stroke="#3f934a" stroke-width="1.15" stroke-linejoin="round"/>
<polygon points="92.3,448.3 89.1,453.9 95.6,453.9" fill="none" stroke="#3f934a" stroke-width="1.15" stroke-linejoin="round"/>
<polygon points="96.2,448.9 92.9,454.5 99.4,454.5" fill="none" stroke="#3f934a" stroke-width="1.15" stroke-linejoin="round"/>
<polygon points="99.6,450.2 96.4,455.8 102.9,455.8" fill="none" stroke="#3f934a" stroke-width="1.15" stroke-linejoin="round"/>
<polygon points="103.0,452.5 99.7,458.1 106.2,458.1" fill="none" stroke="#3f934a" stroke-width="1.15" stroke-linejoin="round"/>
<polygon points="106.6,453.8 103.3,459.4 109.8,459.4" fill="none" stroke="#3f934a" stroke-width="1.15" stroke-linejoin="round"/>
<polygon points="110.0,454.7 106.7,460.3 113.2,460.3" fill="none" stroke="#3f934a" stroke-width="1.15" stroke-linejoin="round"/>
<polygon points="113.9,455.3 110.6,460.9 117.1,460.9" fill="none" stroke="#3f934a" stroke-width="1.15" stroke-linejoin="round"/>
<polygon points="117.5,454.0 114.3,459.7 120.8,459.7" fill="none" stroke="#3f934a" stroke-width="1.15" stroke-linejoin="round"/>
<polygon points="121.2,452.8 118.0,458.4 124.5,458.4" fill="none" stroke="#3f934a" stroke-width="1.15" stroke-linejoin="round"/>
<polygon points="125.0,452.2 121.7,457.8 128.2,457.8" fill="none" stroke="#3f934a" stroke-width="1.15" stroke-linejoin="round"/>
<polygon points="128.7,452.1 125.4,457.7 131.9,457.7" fill="none" stroke="#3f934a" stroke-width="1.15" stroke-linejoin="round"/>
<polygon points="133.8,451.3 130.6,457.0 137.1,457.0" fill="none" stroke="#3f934a" stroke-width="1.15" stroke-linejoin="round"/>
<polygon points="137.0,450.7 133.8,456.4 140.2,456.4" fill="none" stroke="#3f934a" stroke-width="1.15" stroke-linejoin="round"/>
<polygon points="140.8,448.8 137.6,454.5 144.1,454.5" fill="none" stroke="#3f934a" stroke-width="1.15" stroke-linejoin="round"/>
<polygon points="144.0,450.7 140.8,456.4 147.2,456.4" fill="none" stroke="#3f934a" stroke-width="1.15" stroke-linejoin="round"/>
<polygon points="146.5,448.1 143.2,453.8 149.8,453.8" fill="none" stroke="#3f934a" stroke-width="1.15" stroke-linejoin="round"/>
<polygon points="148.4,446.9 145.2,452.6 151.7,452.6" fill="none" stroke="#3f934a" stroke-width="1.15" stroke-linejoin="round"/>
<polygon points="152.3,443.7 149.1,449.4 155.6,449.4" fill="none" stroke="#3f934a" stroke-width="1.15" stroke-linejoin="round"/>
<polygon points="155.4,440.5 152.2,446.2 158.7,446.2" fill="none" stroke="#3f934a" stroke-width="1.15" stroke-linejoin="round"/>
<polygon points="159.3,436.0 156.1,441.7 162.6,441.7" fill="none" stroke="#3f934a" stroke-width="1.15" stroke-linejoin="round"/>
<polygon points="162.4,436.0 159.2,441.7 165.7,441.7" fill="none" stroke="#3f934a" stroke-width="1.15" stroke-linejoin="round"/>
<polygon points="165.0,437.3 161.8,443.0 168.2,443.0" fill="none" stroke="#3f934a" stroke-width="1.15" stroke-linejoin="round"/>
<polygon points="168.2,431.0 164.9,436.7 171.4,436.7" fill="none" stroke="#3f934a" stroke-width="1.15" stroke-linejoin="round"/>
<polygon points="171.3,426.5 168.1,432.2 174.6,432.2" fill="none" stroke="#3f934a" stroke-width="1.15" stroke-linejoin="round"/>
<polygon points="177.1,423.3 173.8,429.0 180.3,429.0" fill="none" stroke="#3f934a" stroke-width="1.15" stroke-linejoin="round"/>
<polygon points="180.3,417.6 177.1,423.3 183.6,423.3" fill="none" stroke="#3f934a" stroke-width="1.15" stroke-linejoin="round"/>
<polygon points="183.4,415.0 180.2,420.7 186.7,420.7" fill="none" stroke="#3f934a" stroke-width="1.15" stroke-linejoin="round"/>
<polygon points="186.0,403.0 182.8,408.7 189.2,408.7" fill="none" stroke="#3f934a" stroke-width="1.15" stroke-linejoin="round"/>
<circle cx="48.9" cy="402.9" r="2.1" fill="none" stroke="#5a47bc" stroke-width="1.1"/>
<circle cx="52.2" cy="418.2" r="2.1" fill="none" stroke="#5a47bc" stroke-width="1.1"/>
<circle cx="54.7" cy="428.3" r="2.1" fill="none" stroke="#5a47bc" stroke-width="1.1"/>
<circle cx="58.0" cy="435.2" r="2.1" fill="none" stroke="#5a47bc" stroke-width="1.1"/>
<circle cx="61.1" cy="434.2" r="2.1" fill="none" stroke="#5a47bc" stroke-width="1.1"/>
<circle cx="64.9" cy="433.4" r="2.1" fill="none" stroke="#5a47bc" stroke-width="1.1"/>
<circle cx="68.7" cy="432.7" r="2.1" fill="none" stroke="#5a47bc" stroke-width="1.1"/>
<circle cx="72.5" cy="431.6" r="2.1" fill="none" stroke="#5a47bc" stroke-width="1.1"/>
<circle cx="76.3" cy="428.3" r="2.1" fill="none" stroke="#5a47bc" stroke-width="1.1"/>
<circle cx="78.9" cy="430.1" r="2.1" fill="none" stroke="#5a47bc" stroke-width="1.1"/>
<circle cx="81.4" cy="434.7" r="2.1" fill="none" stroke="#5a47bc" stroke-width="1.1"/>
<circle cx="83.5" cy="437.0" r="2.1" fill="none" stroke="#5a47bc" stroke-width="1.1"/>
<circle cx="86.1" cy="438.0" r="2.1" fill="none" stroke="#5a47bc" stroke-width="1.1"/>
<circle cx="88.8" cy="441.9" r="2.1" fill="none" stroke="#5a47bc" stroke-width="1.1"/>
<circle cx="91.6" cy="442.4" r="2.1" fill="none" stroke="#5a47bc" stroke-width="1.1"/>
<circle cx="94.8" cy="447.3" r="2.1" fill="none" stroke="#5a47bc" stroke-width="1.1"/>
<circle cx="97.6" cy="449.0" r="2.1" fill="none" stroke="#5a47bc" stroke-width="1.1"/>
<circle cx="100.3" cy="449.5" r="2.1" fill="none" stroke="#5a47bc" stroke-width="1.1"/>
<circle cx="104.1" cy="452.8" r="2.1" fill="none" stroke="#5a47bc" stroke-width="1.1"/>
<circle cx="107.4" cy="453.9" r="2.1" fill="none" stroke="#5a47bc" stroke-width="1.1"/>
<circle cx="110.1" cy="453.3" r="2.1" fill="none" stroke="#5a47bc" stroke-width="1.1"/>
<circle cx="113.4" cy="455.5" r="2.1" fill="none" stroke="#5a47bc" stroke-width="1.1"/>
<circle cx="115.6" cy="460.4" r="2.1" fill="none" stroke="#5a47bc" stroke-width="1.1"/>
<circle cx="118.9" cy="462.1" r="2.1" fill="none" stroke="#5a47bc" stroke-width="1.1"/>
<circle cx="122.2" cy="464.3" r="2.1" fill="none" stroke="#5a47bc" stroke-width="1.1"/>
<circle cx="125.4" cy="465.4" r="2.1" fill="none" stroke="#5a47bc" stroke-width="1.1"/>
<circle cx="128.2" cy="468.1" r="2.1" fill="none" stroke="#5a47bc" stroke-width="1.1"/>
<circle cx="131.5" cy="469.7" r="2.1" fill="none" stroke="#5a47bc" stroke-width="1.1"/>
<circle cx="134.7" cy="474.6" r="2.1" fill="none" stroke="#5a47bc" stroke-width="1.1"/>
<circle cx="140.2" cy="475.2" r="2.1" fill="none" stroke="#5a47bc" stroke-width="1.1"/>
<circle cx="143.5" cy="469.2" r="2.1" fill="none" stroke="#5a47bc" stroke-width="1.1"/>
<circle cx="146.2" cy="476.6" r="2.1" fill="none" stroke="#5a47bc" stroke-width="1.1"/>
<circle cx="152.7" cy="472.6" r="2.1" fill="none" stroke="#5a47bc" stroke-width="1.1"/>
<circle cx="149.5" cy="484.8" r="2.1" fill="none" stroke="#5a47bc" stroke-width="1.1"/>
<circle cx="155.2" cy="483.2" r="2.1" fill="none" stroke="#5a47bc" stroke-width="1.1"/>
<circle cx="158.5" cy="484.8" r="2.1" fill="none" stroke="#5a47bc" stroke-width="1.1"/>
<circle cx="161.7" cy="486.5" r="2.1" fill="none" stroke="#5a47bc" stroke-width="1.1"/>
<circle cx="165.0" cy="485.6" r="2.1" fill="none" stroke="#5a47bc" stroke-width="1.1"/>
<circle cx="167.5" cy="489.7" r="2.1" fill="none" stroke="#5a47bc" stroke-width="1.1"/>
<circle cx="170.7" cy="493.0" r="2.1" fill="none" stroke="#5a47bc" stroke-width="1.1"/>
<circle cx="176.5" cy="493.0" r="2.1" fill="none" stroke="#5a47bc" stroke-width="1.1"/>
<circle cx="179.7" cy="495.5" r="2.1" fill="none" stroke="#5a47bc" stroke-width="1.1"/>
<circle cx="183.0" cy="497.1" r="2.1" fill="none" stroke="#5a47bc" stroke-width="1.1"/>
<circle cx="186.3" cy="495.1" r="2.1" fill="none" stroke="#5a47bc" stroke-width="1.1"/>
<polygon points="149.1,446.3 152.4,449.6 149.1,452.9 145.8,449.6" fill="#000"/>
<text x="160.9" y="453.6" font-size="10.5" font-weight="bold" fill="#111" stroke="#111" stroke-width="0.3">&#963; (MPa)</text>
<circle cx="148.6" cy="462.4" r="2.2" fill="none" stroke="#5a47bc" stroke-width="1.1"/>
<text x="160.1" y="467.0" font-size="10.5" font-weight="bold" fill="#111" stroke="#111" stroke-width="0.3"><tspan font-style="italic" font-size="11.6">L</tspan><tspan font-size="7.3" dy="1.6" font-weight="normal">200</tspan><tspan dy="-1.6"> (nm)</tspan></text>
<polygon points="148.6,475.4 145.8,480.2 151.4,480.2" fill="none" stroke="#3f934a" stroke-width="1.15" stroke-linejoin="round"/>
<text x="162.5" y="483.0" font-size="10.5" font-weight="bold" fill="#111" stroke="#111" stroke-width="0.3"><tspan font-weight="normal" font-size="11.0">&#949;</tspan><tspan font-size="7.3" dy="1.6" font-weight="normal">200</tspan></text>
<text x="265.3" y="386.6" font-size="20.5" fill="#111" stroke="#111" stroke-width="0.18" font-weight="normal" font-style="normal" text-anchor="start" >(f)</text>
<text x="336.7" y="377.0" font-size="10" fill="#333" stroke="#333" stroke-width="0" font-weight="normal" font-style="italic" text-anchor="start" >&#949;</text>
<text x="341.3" y="378.8" font-size="7.0" fill="#333" stroke="#333" stroke-width="0" font-weight="bold" font-style="normal" text-anchor="start" >Y1</text>
<text x="361.7" y="377.0" font-size="10" fill="#333" stroke="#333" stroke-width="0" font-weight="normal" font-style="italic" text-anchor="start" >&#949;</text>
<text x="366.3" y="378.8" font-size="7.0" fill="#333" stroke="#333" stroke-width="0" font-weight="bold" font-style="normal" text-anchor="start" >H</text>
<text x="376.4" y="377.0" font-size="10" fill="#333" stroke="#333" stroke-width="0" font-weight="normal" font-style="italic" text-anchor="start" >&#949;</text>
<text x="381.0" y="378.8" font-size="7.0" fill="#333" stroke="#333" stroke-width="0" font-weight="bold" font-style="normal" text-anchor="start" >Y2</text>
<line x1="343.3" y1="380.0" x2="343.3" y2="519.0" stroke="#c64cd4" stroke-width="1.5" stroke-dasharray="5.1,3.3"/>
<line x1="366.7" y1="380.0" x2="366.7" y2="519.0" stroke="#c64cd4" stroke-width="1.5" stroke-dasharray="5.1,3.3"/>
<line x1="386.2" y1="380.0" x2="386.2" y2="519.0" stroke="#c64cd4" stroke-width="1.5" stroke-dasharray="5.1,3.3"/>
<text transform="translate(305.6,446.0) rotate(-90) scale(1.22,1)" font-size="11.2" font-weight="bold" fill="#222" stroke="#222" stroke-width="0.3" text-anchor="middle"><tspan font-weight="bold" font-size="14">&#963;</tspan> (MPa)</text>
<line x1="326.0" y1="385.8" x2="326.0" y2="519.4" stroke="#4a4a4a" stroke-width="1.4"/>
<line x1="323.0" y1="515.6" x2="326.0" y2="515.6" stroke="#4a4a4a" stroke-width="1.1"/>
<text x="322.5" y="518.6" font-size="11.5" fill="#555555" stroke="#555555" stroke-width="0.3" font-weight="bold" font-style="normal" text-anchor="end" >0</text>
<line x1="323.0" y1="488.9" x2="326.0" y2="488.9" stroke="#4a4a4a" stroke-width="1.1"/>
<text x="322.5" y="491.9" font-size="11.5" fill="#555555" stroke="#555555" stroke-width="0.3" font-weight="bold" font-style="normal" text-anchor="end" >10</text>
<line x1="323.0" y1="461.5" x2="326.0" y2="461.5" stroke="#4a4a4a" stroke-width="1.1"/>
<text x="322.5" y="464.5" font-size="11.5" fill="#555555" stroke="#555555" stroke-width="0.3" font-weight="bold" font-style="normal" text-anchor="end" >20</text>
<line x1="323.0" y1="434.3" x2="326.0" y2="434.3" stroke="#4a4a4a" stroke-width="1.1"/>
<text x="322.5" y="437.3" font-size="11.5" fill="#555555" stroke="#555555" stroke-width="0.3" font-weight="bold" font-style="normal" text-anchor="end" >30</text>
<line x1="323.0" y1="406.7" x2="326.0" y2="406.7" stroke="#4a4a4a" stroke-width="1.1"/>
<text x="322.5" y="409.7" font-size="11.5" fill="#555555" stroke="#555555" stroke-width="0.3" font-weight="bold" font-style="normal" text-anchor="end" >40</text>
<line x1="324.0" y1="502.2" x2="326.0" y2="502.2" stroke="#4a4a4a" stroke-width="1.0"/>
<line x1="324.0" y1="475.2" x2="326.0" y2="475.2" stroke="#4a4a4a" stroke-width="1.0"/>
<line x1="324.0" y1="447.9" x2="326.0" y2="447.9" stroke="#4a4a4a" stroke-width="1.0"/>
<line x1="324.0" y1="420.5" x2="326.0" y2="420.5" stroke="#4a4a4a" stroke-width="1.0"/>
<line x1="324.0" y1="393.0" x2="326.0" y2="393.0" stroke="#4a4a4a" stroke-width="1.0"/>
<line x1="326.0" y1="519.4" x2="493.5" y2="519.4" stroke="#1e1e1e" stroke-width="1.6"/>
<line x1="334.8" y1="519.4" x2="334.8" y2="522.4" stroke="#4a4a4a" stroke-width="1.1"/>
<text x="334.8" y="532.9" font-size="11.5" fill="#222222" stroke="#222222" stroke-width="0.3" font-weight="bold" font-style="normal" text-anchor="middle" >0.0</text>
<line x1="380.5" y1="519.4" x2="380.5" y2="522.4" stroke="#4a4a4a" stroke-width="1.1"/>
<text x="380.5" y="532.9" font-size="11.5" fill="#222222" stroke="#222222" stroke-width="0.3" font-weight="bold" font-style="normal" text-anchor="middle" >0.5</text>
<line x1="425.6" y1="519.4" x2="425.6" y2="522.4" stroke="#4a4a4a" stroke-width="1.1"/>
<text x="425.6" y="532.9" font-size="11.5" fill="#222222" stroke="#222222" stroke-width="0.3" font-weight="bold" font-style="normal" text-anchor="middle" >1.0</text>
<line x1="470.5" y1="519.4" x2="470.5" y2="522.4" stroke="#4a4a4a" stroke-width="1.1"/>
<text x="470.5" y="532.9" font-size="11.5" fill="#222222" stroke="#222222" stroke-width="0.3" font-weight="bold" font-style="normal" text-anchor="middle" >1.5</text>
<line x1="357.6" y1="519.4" x2="357.6" y2="521.4" stroke="#4a4a4a" stroke-width="1.0"/>
<line x1="403.0" y1="519.4" x2="403.0" y2="521.4" stroke="#4a4a4a" stroke-width="1.0"/>
<line x1="448.0" y1="519.4" x2="448.0" y2="521.4" stroke="#4a4a4a" stroke-width="1.0"/>
<line x1="493.5" y1="386.4" x2="493.5" y2="519.4" stroke="#f3782c" stroke-width="1.7"/>
<line x1="493.5" y1="414.3" x2="496.5" y2="414.3" stroke="#f3782c" stroke-width="1.1"/>
<text x="496.5" y="418.5" font-size="12.5" fill="#f3782c" stroke="#f3782c" stroke-width="0.3" font-weight="bold" font-style="normal" text-anchor="start" >0.00</text>
<line x1="493.5" y1="485.6" x2="496.5" y2="485.6" stroke="#f3782c" stroke-width="1.1"/>
<text x="496.5" y="489.8" font-size="12.5" fill="#f3782c" stroke="#f3782c" stroke-width="0.3" font-weight="bold" font-style="normal" text-anchor="start" >-0.01</text>
<line x1="493.5" y1="450.0" x2="495.5" y2="450.0" stroke="#f3782c" stroke-width="1.0"/>
<line x1="528.3" y1="386.4" x2="528.3" y2="520.0" stroke="#c46ad2" stroke-width="1.7"/>
<line x1="528.3" y1="397.2" x2="531.3" y2="397.2" stroke="#c46ad2" stroke-width="1.1"/>
<text x="531.5" y="401.4" font-size="12.5" fill="#c46ad2" stroke="#c46ad2" stroke-width="0.3" font-weight="bold" font-style="normal" text-anchor="start" >18</text>
<line x1="528.3" y1="431.5" x2="531.3" y2="431.5" stroke="#c46ad2" stroke-width="1.1"/>
<text x="531.5" y="435.7" font-size="12.5" fill="#c46ad2" stroke="#c46ad2" stroke-width="0.3" font-weight="bold" font-style="normal" text-anchor="start" >15</text>
<line x1="528.3" y1="464.7" x2="531.3" y2="464.7" stroke="#c46ad2" stroke-width="1.1"/>
<text x="531.5" y="468.9" font-size="12.5" fill="#c46ad2" stroke="#c46ad2" stroke-width="0.3" font-weight="bold" font-style="normal" text-anchor="start" >12</text>
<line x1="528.3" y1="497.8" x2="531.3" y2="497.8" stroke="#c46ad2" stroke-width="1.1"/>
<text x="531.5" y="502.0" font-size="12.5" fill="#c46ad2" stroke="#c46ad2" stroke-width="0.3" font-weight="bold" font-style="normal" text-anchor="start" >9</text>
<line x1="528.3" y1="414.3" x2="530.3" y2="414.3" stroke="#c46ad2" stroke-width="1.0"/>
<line x1="528.3" y1="448.1" x2="530.3" y2="448.1" stroke="#c46ad2" stroke-width="1.0"/>
<line x1="528.3" y1="481.2" x2="530.3" y2="481.2" stroke="#c46ad2" stroke-width="1.0"/>
<line x1="528.3" y1="514.5" x2="530.3" y2="514.5" stroke="#c46ad2" stroke-width="1.0"/>
<text x="483.8" y="376.8" font-size="12.5" font-weight="bold" font-style="italic" fill="#f3782c">&#949;<tspan font-size="7.5" dy="1.4">001</tspan></text>
<text x="507.8" y="376.8" font-size="11.5" font-weight="bold" font-style="italic" fill="#c46ad2">L<tspan font-size="7.5" dy="1.4">001</tspan><tspan dy="-1.4">/nm</tspan></text>
<text x="397.0" y="388.9" font-size="16.5" fill="#111" stroke="#111" stroke-width="0.3" font-weight="bold" font-style="normal" text-anchor="start" >PE- 87</text>
<text x="398.5" y="543.0" font-size="24" fill="#222" stroke="#222" stroke-width="0.18" font-weight="normal" font-style="italic" text-anchor="start" >&#949;</text>
<polyline points="334.9,516.7 335.0,516.4 335.1,516.1 335.2,515.7 335.3,515.2 335.5,514.8 335.7,514.2 335.8,513.7 336.0,513.1 336.1,512.6 336.3,512.0 336.5,511.4 336.6,510.8 336.8,510.2 336.9,509.5 337.1,508.9 337.3,508.2 337.5,507.5 337.6,506.8 337.8,506.2 338.0,505.5 338.2,504.8 338.4,504.2 338.6,503.5 338.8,502.8 339.0,502.1 339.2,501.5 339.4,500.8 339.6,500.2 339.8,499.6 340.0,499.0 340.2,498.5 340.4,497.9 340.6,497.5 340.8,497.0 341.0,496.5 341.2,496.1 341.4,495.7 341.6,495.3 341.8,494.9 342.0,494.5 342.2,494.1 342.5,493.8 342.7,493.5 342.9,493.2 343.2,492.9 343.4,492.6 343.7,492.3 343.9,492.0 344.2,491.8 344.5,491.5 344.8,491.2 345.1,491.0 345.4,490.7 345.8,490.5 346.1,490.2 346.5,490.0 346.8,489.7 347.2,489.5 347.6,489.2 348.0,489.0 348.4,488.8 348.8,488.5 349.3,488.3 349.7,488.0 350.2,487.8 350.7,487.6 351.1,487.3 351.6,487.0 352.0,486.8 352.5,486.5 353.0,486.2 353.4,485.9 353.9,485.6 354.3,485.3 354.8,485.0 355.2,484.7 355.7,484.4 356.1,484.0 356.6,483.7 357.0,483.3 357.4,482.9 357.8,482.5 358.3,482.1 358.7,481.6 359.1,481.2 359.5,480.7 359.9,480.3 360.3,479.8 360.6,479.4 361.0,479.0 361.3,478.6 361.6,478.3 361.9,478.0 362.1,477.7 362.4,477.4 362.7,477.1 363.0,476.8 363.3,476.4 363.7,475.9 364.1,475.4 364.6,474.8 365.2,474.1 365.8,473.4 366.4,472.7 367.0,471.9 367.7,471.0 368.4,470.2 369.1,469.4 369.8,468.6 370.5,467.8 371.2,467.0 371.9,466.3 372.6,465.5 373.3,464.7 374.0,464.0 374.7,463.2 375.4,462.4 376.2,461.6 376.9,460.8 377.7,460.0 378.5,459.2 379.4,458.3 380.2,457.3 381.1,456.4 382.0,455.5 382.9,454.6 383.8,453.7 384.7,452.9 385.6,452.1 386.4,451.4 387.2,450.8 388.0,450.3 388.7,449.9 389.5,449.5 390.2,449.1 390.9,448.8 391.7,448.4 392.4,448.0 393.2,447.5 394.0,447.0 394.8,446.4 395.7,445.7 396.6,445.1 397.4,444.3 398.3,443.6 399.2,442.8 400.1,442.1 401.0,441.3 401.9,440.6 402.8,439.9 403.7,439.2 404.6,438.5 405.5,437.8 406.4,437.2 407.3,436.5 408.1,435.8 409.0,435.2 409.8,434.5 410.6,433.9 411.4,433.3 412.1,432.7 412.8,432.2 413.5,431.7 414.1,431.2 414.7,430.7 415.3,430.2 415.9,429.7 416.5,429.2 417.1,428.7 417.7,428.2 418.3,427.6 419.0,427.1 419.6,426.5 420.3,425.9 420.9,425.3 421.5,424.7 422.2,424.1 422.8,423.5 423.5,423.0 424.1,422.4 424.7,421.9 425.3,421.4 426.0,420.8 426.6,420.3 427.2,419.9 427.8,419.4 428.4,418.9 429.1,418.4 429.7,417.9 430.4,417.4 431.1,416.9 431.9,416.4 432.6,415.9 433.4,415.3 434.2,414.8 435.0,414.3 435.8,413.8 436.5,413.3 437.3,412.8 438.1,412.3 438.9,411.8 439.6,411.4 440.4,410.9 441.1,410.4 441.9,410.0 442.7,409.5 443.4,409.1 444.2,408.6 444.9,408.2 445.7,407.8 446.5,407.4 447.3,407.0 448.1,406.6 448.9,406.2 449.7,405.8 450.4,405.4 451.2,405.0 451.9,404.7 452.6,404.3 453.3,404.0 453.9,403.7 454.5,403.4 455.0,403.1 455.5,402.8 455.9,402.6 456.4,402.4 456.9,402.1 457.3,401.9 457.8,401.7 458.4,401.5 459.0,401.3 459.7,401.1 460.4,400.9 461.1,400.7 461.8,400.5 462.6,400.4 463.2,400.3 463.8,400.2 464.4,400.2 464.8,400.2 465.1,400.3 465.4,400.5 465.6,400.7 465.7,401.0 465.8,401.3 465.9,401.6 465.9,401.9 465.9,402.1 466.0,402.3 466.0,402.5" fill="none" stroke="#3c3c3c" stroke-width="3.6" stroke-linejoin="round" stroke-linecap="round"/>
<polygon points="347.6,410.4 344.4,416.1 350.9,416.1" fill="none" stroke="#f3782c" stroke-width="1.15" stroke-linejoin="round"/>
<polygon points="348.4,423.7 345.1,429.4 351.6,429.4" fill="none" stroke="#f3782c" stroke-width="1.15" stroke-linejoin="round"/>
<polygon points="350.9,437.6 347.7,443.3 354.2,443.3" fill="none" stroke="#f3782c" stroke-width="1.15" stroke-linejoin="round"/>
<polygon points="351.9,434.0 348.7,439.6 355.2,439.6" fill="none" stroke="#f3782c" stroke-width="1.15" stroke-linejoin="round"/>
<polygon points="352.5,437.0 349.3,442.7 355.8,442.7" fill="none" stroke="#f3782c" stroke-width="1.15" stroke-linejoin="round"/>
<polygon points="353.7,436.3 350.5,442.0 357.0,442.0" fill="none" stroke="#f3782c" stroke-width="1.15" stroke-linejoin="round"/>
<polygon points="354.5,438.9 351.3,444.5 357.8,444.5" fill="none" stroke="#f3782c" stroke-width="1.15" stroke-linejoin="round"/>
<polygon points="355.9,439.9 352.7,445.5 359.2,445.5" fill="none" stroke="#f3782c" stroke-width="1.15" stroke-linejoin="round"/>
<polygon points="356.6,439.0 353.4,444.6 359.9,444.6" fill="none" stroke="#f3782c" stroke-width="1.15" stroke-linejoin="round"/>
<polygon points="358.7,442.2 355.4,447.8 361.9,447.8" fill="none" stroke="#f3782c" stroke-width="1.15" stroke-linejoin="round"/>
<polygon points="359.4,445.1 356.2,450.8 362.7,450.8" fill="none" stroke="#f3782c" stroke-width="1.15" stroke-linejoin="round"/>
<polygon points="360.3,442.4 357.1,448.1 363.6,448.1" fill="none" stroke="#f3782c" stroke-width="1.15" stroke-linejoin="round"/>
<polygon points="362.3,446.4 359.0,452.0 365.5,452.0" fill="none" stroke="#f3782c" stroke-width="1.15" stroke-linejoin="round"/>
<polygon points="363.4,447.4 360.2,453.1 366.7,453.1" fill="none" stroke="#f3782c" stroke-width="1.15" stroke-linejoin="round"/>
<polygon points="365.5,446.6 362.2,452.2 368.7,452.2" fill="none" stroke="#f3782c" stroke-width="1.15" stroke-linejoin="round"/>
<polygon points="366.7,447.0 363.4,452.6 369.9,452.6" fill="none" stroke="#f3782c" stroke-width="1.15" stroke-linejoin="round"/>
<polygon points="367.9,449.0 364.6,454.7 371.1,454.7" fill="none" stroke="#f3782c" stroke-width="1.15" stroke-linejoin="round"/>
<polygon points="369.0,446.3 365.7,451.9 372.2,451.9" fill="none" stroke="#f3782c" stroke-width="1.15" stroke-linejoin="round"/>
<polygon points="370.8,450.2 367.6,455.8 374.1,455.8" fill="none" stroke="#f3782c" stroke-width="1.15" stroke-linejoin="round"/>
<polygon points="372.6,448.9 369.3,454.5 375.8,454.5" fill="none" stroke="#f3782c" stroke-width="1.15" stroke-linejoin="round"/>
<polygon points="374.3,447.5 371.0,453.1 377.5,453.1" fill="none" stroke="#f3782c" stroke-width="1.15" stroke-linejoin="round"/>
<polygon points="375.1,448.2 371.8,453.9 378.3,453.9" fill="none" stroke="#f3782c" stroke-width="1.15" stroke-linejoin="round"/>
<polygon points="377.8,447.4 374.5,453.0 381.0,453.0" fill="none" stroke="#f3782c" stroke-width="1.15" stroke-linejoin="round"/>
<polygon points="378.1,446.5 374.9,452.2 381.4,452.2" fill="none" stroke="#f3782c" stroke-width="1.15" stroke-linejoin="round"/>
<polygon points="379.6,447.1 376.3,452.8 382.8,452.8" fill="none" stroke="#f3782c" stroke-width="1.15" stroke-linejoin="round"/>
<polygon points="382.0,449.8 378.8,455.5 385.3,455.5" fill="none" stroke="#f3782c" stroke-width="1.15" stroke-linejoin="round"/>
<polygon points="383.2,447.1 380.0,452.7 386.5,452.7" fill="none" stroke="#f3782c" stroke-width="1.15" stroke-linejoin="round"/>
<polygon points="384.7,446.5 381.5,452.2 388.0,452.2" fill="none" stroke="#f3782c" stroke-width="1.15" stroke-linejoin="round"/>
<polygon points="387.1,447.7 383.9,453.3 390.4,453.3" fill="none" stroke="#f3782c" stroke-width="1.15" stroke-linejoin="round"/>
<polygon points="387.8,444.9 384.6,450.5 391.1,450.5" fill="none" stroke="#f3782c" stroke-width="1.15" stroke-linejoin="round"/>
<polygon points="390.3,447.9 387.0,453.5 393.5,453.5" fill="none" stroke="#f3782c" stroke-width="1.15" stroke-linejoin="round"/>
<polygon points="391.9,445.0 388.7,450.6 395.2,450.6" fill="none" stroke="#f3782c" stroke-width="1.15" stroke-linejoin="round"/>
<polygon points="393.0,448.4 389.8,454.1 396.3,454.1" fill="none" stroke="#f3782c" stroke-width="1.15" stroke-linejoin="round"/>
<polygon points="394.7,448.3 391.4,453.9 397.9,453.9" fill="none" stroke="#f3782c" stroke-width="1.15" stroke-linejoin="round"/>
<polygon points="395.5,448.1 392.3,453.7 398.8,453.7" fill="none" stroke="#f3782c" stroke-width="1.15" stroke-linejoin="round"/>
<polygon points="396.9,444.7 393.6,450.3 400.1,450.3" fill="none" stroke="#f3782c" stroke-width="1.15" stroke-linejoin="round"/>
<polygon points="398.4,446.8 395.2,452.4 401.7,452.4" fill="none" stroke="#f3782c" stroke-width="1.15" stroke-linejoin="round"/>
<polygon points="401.1,447.6 397.9,453.2 404.4,453.2" fill="none" stroke="#f3782c" stroke-width="1.15" stroke-linejoin="round"/>
<polygon points="402.9,447.3 399.7,452.9 406.2,452.9" fill="none" stroke="#f3782c" stroke-width="1.15" stroke-linejoin="round"/>
<polygon points="404.1,447.3 400.8,452.9 407.3,452.9" fill="none" stroke="#f3782c" stroke-width="1.15" stroke-linejoin="round"/>
<polygon points="406.0,443.3 402.7,449.0 409.2,449.0" fill="none" stroke="#f3782c" stroke-width="1.15" stroke-linejoin="round"/>
<polygon points="407.9,443.2 404.7,448.8 411.2,448.8" fill="none" stroke="#f3782c" stroke-width="1.15" stroke-linejoin="round"/>
<polygon points="408.2,441.2 404.9,446.8 411.4,446.8" fill="none" stroke="#f3782c" stroke-width="1.15" stroke-linejoin="round"/>
<polygon points="410.2,441.5 407.0,447.1 413.5,447.1" fill="none" stroke="#f3782c" stroke-width="1.15" stroke-linejoin="round"/>
<polygon points="412.6,445.4 409.3,451.0 415.8,451.0" fill="none" stroke="#f3782c" stroke-width="1.15" stroke-linejoin="round"/>
<polygon points="412.9,440.3 409.7,446.0 416.2,446.0" fill="none" stroke="#f3782c" stroke-width="1.15" stroke-linejoin="round"/>
<polygon points="415.0,440.6 411.8,446.2 418.3,446.2" fill="none" stroke="#f3782c" stroke-width="1.15" stroke-linejoin="round"/>
<polygon points="416.7,444.1 413.4,449.7 419.9,449.7" fill="none" stroke="#f3782c" stroke-width="1.15" stroke-linejoin="round"/>
<polygon points="417.8,441.8 414.5,447.4 421.0,447.4" fill="none" stroke="#f3782c" stroke-width="1.15" stroke-linejoin="round"/>
<polygon points="420.4,441.6 417.2,447.2 423.7,447.2" fill="none" stroke="#f3782c" stroke-width="1.15" stroke-linejoin="round"/>
<polygon points="421.0,443.6 417.7,449.2 424.2,449.2" fill="none" stroke="#f3782c" stroke-width="1.15" stroke-linejoin="round"/>
<polygon points="423.3,442.9 420.0,448.6 426.5,448.6" fill="none" stroke="#f3782c" stroke-width="1.15" stroke-linejoin="round"/>
<polygon points="424.5,439.5 421.2,445.2 427.7,445.2" fill="none" stroke="#f3782c" stroke-width="1.15" stroke-linejoin="round"/>
<polygon points="425.9,441.1 422.6,446.7 429.1,446.7" fill="none" stroke="#f3782c" stroke-width="1.15" stroke-linejoin="round"/>
<polygon points="427.1,436.8 423.8,442.4 430.3,442.4" fill="none" stroke="#f3782c" stroke-width="1.15" stroke-linejoin="round"/>
<polygon points="427.8,436.9 424.6,442.5 431.1,442.5" fill="none" stroke="#f3782c" stroke-width="1.15" stroke-linejoin="round"/>
<polygon points="430.1,437.1 426.9,442.8 433.4,442.8" fill="none" stroke="#f3782c" stroke-width="1.15" stroke-linejoin="round"/>
<polygon points="431.3,438.4 428.1,444.0 434.6,444.0" fill="none" stroke="#f3782c" stroke-width="1.15" stroke-linejoin="round"/>
<polygon points="432.2,437.1 428.9,442.7 435.4,442.7" fill="none" stroke="#f3782c" stroke-width="1.15" stroke-linejoin="round"/>
<polygon points="434.1,436.5 430.9,442.2 437.4,442.2" fill="none" stroke="#f3782c" stroke-width="1.15" stroke-linejoin="round"/>
<polygon points="436.6,434.6 433.3,440.2 439.8,440.2" fill="none" stroke="#f3782c" stroke-width="1.15" stroke-linejoin="round"/>
<polygon points="438.3,433.4 435.1,439.1 441.6,439.1" fill="none" stroke="#f3782c" stroke-width="1.15" stroke-linejoin="round"/>
<polygon points="439.3,435.8 436.0,441.4 442.5,441.4" fill="none" stroke="#f3782c" stroke-width="1.15" stroke-linejoin="round"/>
<polygon points="440.2,435.4 437.0,441.0 443.5,441.0" fill="none" stroke="#f3782c" stroke-width="1.15" stroke-linejoin="round"/>
<polygon points="442.0,434.0 438.8,439.6 445.3,439.6" fill="none" stroke="#f3782c" stroke-width="1.15" stroke-linejoin="round"/>
<polygon points="443.7,430.5 440.5,436.1 447.0,436.1" fill="none" stroke="#f3782c" stroke-width="1.15" stroke-linejoin="round"/>
<polygon points="444.4,433.9 441.2,439.6 447.7,439.6" fill="none" stroke="#f3782c" stroke-width="1.15" stroke-linejoin="round"/>
<polygon points="445.4,433.5 442.1,439.2 448.6,439.2" fill="none" stroke="#f3782c" stroke-width="1.15" stroke-linejoin="round"/>
<polygon points="446.8,431.6 443.6,437.2 450.1,437.2" fill="none" stroke="#f3782c" stroke-width="1.15" stroke-linejoin="round"/>
<polygon points="448.1,429.4 444.9,435.1 451.4,435.1" fill="none" stroke="#f3782c" stroke-width="1.15" stroke-linejoin="round"/>
<polygon points="450.0,426.7 446.7,432.3 453.2,432.3" fill="none" stroke="#f3782c" stroke-width="1.15" stroke-linejoin="round"/>
<polygon points="452.0,428.7 448.7,434.3 455.2,434.3" fill="none" stroke="#f3782c" stroke-width="1.15" stroke-linejoin="round"/>
<polygon points="453.5,429.4 450.3,435.0 456.8,435.0" fill="none" stroke="#f3782c" stroke-width="1.15" stroke-linejoin="round"/>
<polygon points="454.8,429.8 451.6,435.4 458.1,435.4" fill="none" stroke="#f3782c" stroke-width="1.15" stroke-linejoin="round"/>
<polygon points="456.0,431.7 452.7,437.3 459.2,437.3" fill="none" stroke="#f3782c" stroke-width="1.15" stroke-linejoin="round"/>
<polygon points="457.0,430.8 453.8,436.5 460.3,436.5" fill="none" stroke="#f3782c" stroke-width="1.15" stroke-linejoin="round"/>
<polygon points="459.6,427.8 456.4,433.4 462.9,433.4" fill="none" stroke="#f3782c" stroke-width="1.15" stroke-linejoin="round"/>
<polygon points="460.7,427.8 457.5,433.4 464.0,433.4" fill="none" stroke="#f3782c" stroke-width="1.15" stroke-linejoin="round"/>
<polygon points="461.6,424.5 458.3,430.1 464.8,430.1" fill="none" stroke="#f3782c" stroke-width="1.15" stroke-linejoin="round"/>
<polygon points="462.0,423.5 458.7,429.1 465.2,429.1" fill="none" stroke="#f3782c" stroke-width="1.15" stroke-linejoin="round"/>
<polygon points="462.7,425.5 459.5,431.2 466.0,431.2" fill="none" stroke="#f3782c" stroke-width="1.15" stroke-linejoin="round"/>
<polygon points="463.7,421.0 460.4,426.6 466.9,426.6" fill="none" stroke="#f3782c" stroke-width="1.15" stroke-linejoin="round"/>
<polygon points="464.6,422.0 461.3,427.6 467.8,427.6" fill="none" stroke="#f3782c" stroke-width="1.15" stroke-linejoin="round"/>
<polygon points="465.5,419.1 462.2,424.8 468.7,424.8" fill="none" stroke="#f3782c" stroke-width="1.15" stroke-linejoin="round"/>
<polygon points="466.0,416.2 462.7,421.9 469.2,421.9" fill="none" stroke="#f3782c" stroke-width="1.15" stroke-linejoin="round"/>
<polygon points="466.6,414.6 463.3,420.2 469.8,420.2" fill="none" stroke="#f3782c" stroke-width="1.15" stroke-linejoin="round"/>
<polygon points="467.9,416.9 464.7,422.6 471.2,422.6" fill="none" stroke="#f3782c" stroke-width="1.15" stroke-linejoin="round"/>
<polygon points="469.6,413.2 466.4,418.8 472.9,418.8" fill="none" stroke="#f3782c" stroke-width="1.15" stroke-linejoin="round"/>
<polygon points="470.2,414.7 467.0,420.3 473.5,420.3" fill="none" stroke="#f3782c" stroke-width="1.15" stroke-linejoin="round"/>
<polygon points="471.0,418.0 467.8,423.6 474.3,423.6" fill="none" stroke="#f3782c" stroke-width="1.15" stroke-linejoin="round"/>
<polygon points="472.4,418.3 469.1,423.9 475.6,423.9" fill="none" stroke="#f3782c" stroke-width="1.15" stroke-linejoin="round"/>
<polygon points="473.2,419.5 470.0,425.2 476.5,425.2" fill="none" stroke="#f3782c" stroke-width="1.15" stroke-linejoin="round"/>
<polygon points="474.3,423.1 471.1,428.7 477.6,428.7" fill="none" stroke="#f3782c" stroke-width="1.15" stroke-linejoin="round"/>
<circle cx="346.3" cy="462.2" r="2.1" fill="none" stroke="#c46ad2" stroke-width="1.1"/>
<circle cx="348.9" cy="438.5" r="2.1" fill="none" stroke="#c46ad2" stroke-width="1.1"/>
<circle cx="351.4" cy="423.3" r="2.1" fill="none" stroke="#c46ad2" stroke-width="1.1"/>
<circle cx="355.2" cy="419.4" r="2.1" fill="none" stroke="#c46ad2" stroke-width="1.1"/>
<circle cx="358.5" cy="413.1" r="2.1" fill="none" stroke="#c46ad2" stroke-width="1.1"/>
<circle cx="361.1" cy="405.4" r="2.1" fill="none" stroke="#c46ad2" stroke-width="1.1"/>
<circle cx="364.1" cy="411.8" r="2.1" fill="none" stroke="#c46ad2" stroke-width="1.1"/>
<circle cx="368.0" cy="414.3" r="2.1" fill="none" stroke="#c46ad2" stroke-width="1.1"/>
<circle cx="370.5" cy="411.3" r="2.1" fill="none" stroke="#c46ad2" stroke-width="1.1"/>
<circle cx="371.1" cy="414.2" r="2.1" fill="none" stroke="#c46ad2" stroke-width="1.1"/>
<circle cx="374.4" cy="416.4" r="2.1" fill="none" stroke="#c46ad2" stroke-width="1.1"/>
<circle cx="377.1" cy="413.7" r="2.1" fill="none" stroke="#c46ad2" stroke-width="1.1"/>
<circle cx="379.3" cy="418.0" r="2.1" fill="none" stroke="#c46ad2" stroke-width="1.1"/>
<circle cx="382.0" cy="417.5" r="2.1" fill="none" stroke="#c46ad2" stroke-width="1.1"/>
<circle cx="385.3" cy="419.1" r="2.1" fill="none" stroke="#c46ad2" stroke-width="1.1"/>
<circle cx="386.4" cy="421.9" r="2.1" fill="none" stroke="#c46ad2" stroke-width="1.1"/>
<circle cx="389.7" cy="420.8" r="2.1" fill="none" stroke="#c46ad2" stroke-width="1.1"/>
<circle cx="393.0" cy="424.0" r="2.1" fill="none" stroke="#c46ad2" stroke-width="1.1"/>
<circle cx="395.1" cy="419.1" r="2.1" fill="none" stroke="#c46ad2" stroke-width="1.1"/>
<circle cx="398.4" cy="425.1" r="2.1" fill="none" stroke="#c46ad2" stroke-width="1.1"/>
<circle cx="401.7" cy="427.3" r="2.1" fill="none" stroke="#c46ad2" stroke-width="1.1"/>
<circle cx="403.9" cy="420.8" r="2.1" fill="none" stroke="#c46ad2" stroke-width="1.1"/>
<circle cx="406.1" cy="425.1" r="2.1" fill="none" stroke="#c46ad2" stroke-width="1.1"/>
<circle cx="408.3" cy="418.6" r="2.1" fill="none" stroke="#c46ad2" stroke-width="1.1"/>
<circle cx="411.5" cy="423.0" r="2.1" fill="none" stroke="#c46ad2" stroke-width="1.1"/>
<circle cx="413.7" cy="419.7" r="2.1" fill="none" stroke="#c46ad2" stroke-width="1.1"/>
<circle cx="415.9" cy="423.0" r="2.1" fill="none" stroke="#c46ad2" stroke-width="1.1"/>
<circle cx="419.2" cy="423.5" r="2.1" fill="none" stroke="#c46ad2" stroke-width="1.1"/>
<circle cx="421.4" cy="415.8" r="2.1" fill="none" stroke="#c46ad2" stroke-width="1.1"/>
<circle cx="424.1" cy="415.8" r="2.1" fill="none" stroke="#c46ad2" stroke-width="1.1"/>
<circle cx="426.8" cy="424.6" r="2.1" fill="none" stroke="#c46ad2" stroke-width="1.1"/>
<circle cx="430.4" cy="418.2" r="2.1" fill="none" stroke="#c46ad2" stroke-width="1.1"/>
<circle cx="433.0" cy="415.0" r="2.1" fill="none" stroke="#c46ad2" stroke-width="1.1"/>
<circle cx="435.4" cy="415.6" r="2.1" fill="none" stroke="#c46ad2" stroke-width="1.1"/>
<circle cx="438.0" cy="412.0" r="2.1" fill="none" stroke="#c46ad2" stroke-width="1.1"/>
<circle cx="438.7" cy="419.9" r="2.1" fill="none" stroke="#c46ad2" stroke-width="1.1"/>
<circle cx="440.6" cy="406.5" r="2.1" fill="none" stroke="#c46ad2" stroke-width="1.1"/>
<circle cx="444.4" cy="410.4" r="2.1" fill="none" stroke="#c46ad2" stroke-width="1.1"/>
<circle cx="448.3" cy="409.1" r="2.1" fill="none" stroke="#c46ad2" stroke-width="1.1"/>
<circle cx="451.4" cy="412.3" r="2.1" fill="none" stroke="#c46ad2" stroke-width="1.1"/>
<circle cx="455.3" cy="411.6" r="2.1" fill="none" stroke="#c46ad2" stroke-width="1.1"/>
<circle cx="454.6" cy="407.2" r="2.1" fill="none" stroke="#c46ad2" stroke-width="1.1"/>
<circle cx="459.7" cy="404.0" r="2.1" fill="none" stroke="#c46ad2" stroke-width="1.1"/>
<circle cx="461.6" cy="406.5" r="2.1" fill="none" stroke="#c46ad2" stroke-width="1.1"/>
<circle cx="463.5" cy="402.7" r="2.1" fill="none" stroke="#c46ad2" stroke-width="1.1"/>
<circle cx="466.1" cy="392.5" r="2.1" fill="none" stroke="#c46ad2" stroke-width="1.1"/>
<circle cx="471.2" cy="391.9" r="2.1" fill="none" stroke="#c46ad2" stroke-width="1.1"/>
<circle cx="467.3" cy="395.7" r="2.1" fill="none" stroke="#c46ad2" stroke-width="1.1"/>
<circle cx="472.4" cy="396.4" r="2.1" fill="none" stroke="#c46ad2" stroke-width="1.1"/>
<circle cx="473.7" cy="412.3" r="2.1" fill="none" stroke="#c46ad2" stroke-width="1.1"/>
<polygon points="432.9,478.5 436.2,481.8 432.9,485.1 429.6,481.8" fill="#000"/>
<text x="443.1" y="486.0" font-size="11.5" font-weight="bold" fill="#111" stroke="#111" stroke-width="0.3">&#963; (MPa)</text>
<circle cx="431.6" cy="494.5" r="2.2" fill="none" stroke="#c46ad2" stroke-width="1.1"/>
<text x="443.1" y="498.5" font-size="11.5" font-weight="bold" fill="#111" stroke="#111" stroke-width="0.3"><tspan font-style="italic" font-size="12.7">L</tspan><tspan font-size="8.0" dy="1.6" font-weight="normal">001</tspan><tspan dy="-1.6">(nm)</tspan></text>
<polygon points="431.6,505.6 428.8,510.4 434.4,510.4" fill="none" stroke="#f3782c" stroke-width="1.15" stroke-linejoin="round"/>
<text x="443.1" y="512.5" font-size="11.5" font-weight="bold" fill="#111" stroke="#111" stroke-width="0.3"><tspan font-weight="normal" font-size="12.1">&#949;</tspan><tspan font-size="8.0" dy="1.6" font-weight="normal">001</tspan></text>
</svg></body></html>
